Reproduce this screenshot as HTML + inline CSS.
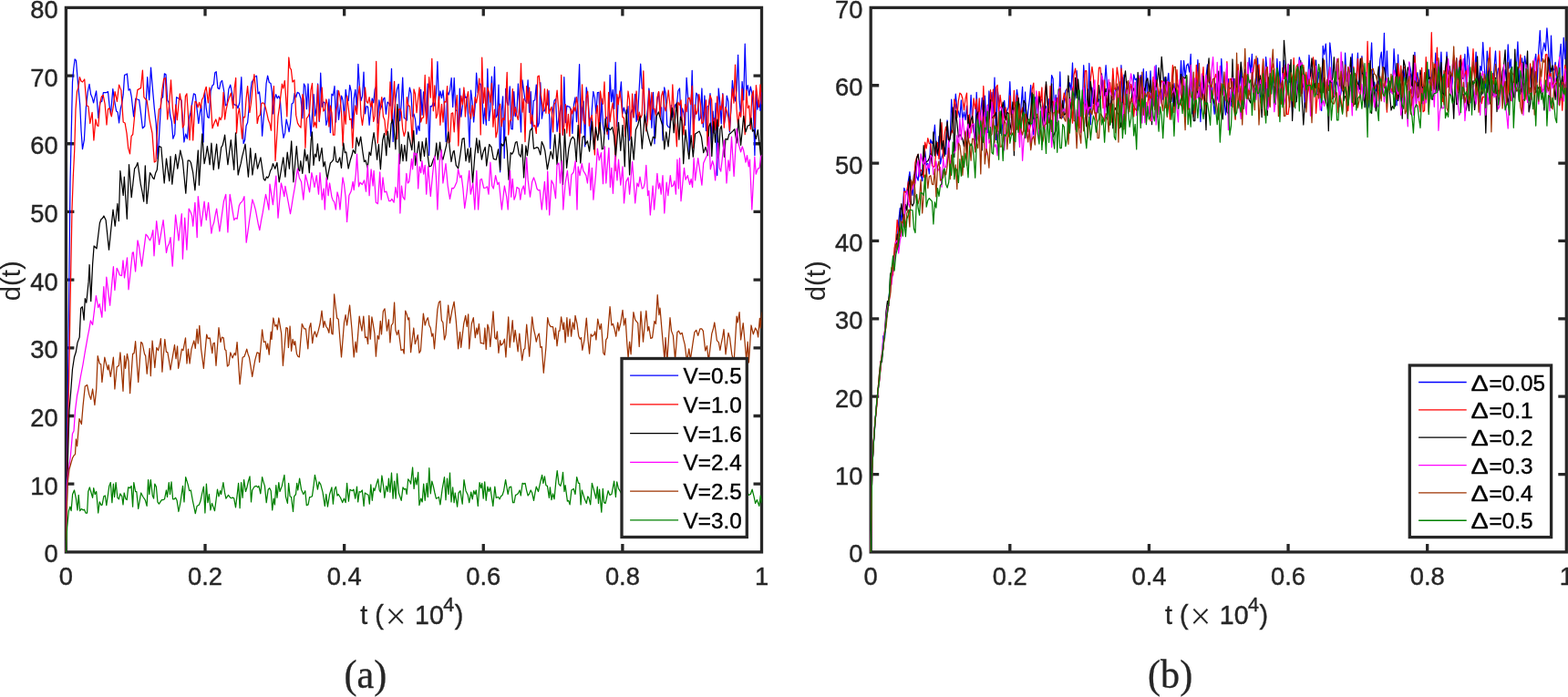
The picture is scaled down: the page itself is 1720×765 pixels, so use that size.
<!DOCTYPE html>
<html><head><meta charset="utf-8"><title>d(t) versus t</title>
<style>html,body{margin:0;padding:0;background:#fff;overflow:hidden}svg{display:block}text{font-family:"Liberation Sans",sans-serif}.s{font-family:"Liberation Serif",serif}.d{fill:none;stroke-width:1.25;stroke-linejoin:round;stroke-linecap:butt}</style></head><body>
<svg width="1720" height="765" viewBox="0 0 1720 765">
<rect width="1720" height="765" fill="#fff"/>
<g fill="none" stroke="#262626" stroke-width="3.3"><path d="M225.02 605.9 v-9.0 M225.02 8.4 v9.0"/><path d="M377.64 605.9 v-9.0 M377.64 8.4 v9.0"/><path d="M530.26 605.9 v-9.0 M530.26 8.4 v9.0"/><path d="M682.88 605.9 v-9.0 M682.88 8.4 v9.0"/><path d="M72.4 531.21 h9.0 M835.5 531.21 h-9.0"/><path d="M72.4 456.52 h9.0 M835.5 456.52 h-9.0"/><path d="M72.4 381.84 h9.0 M835.5 381.84 h-9.0"/><path d="M72.4 307.15 h9.0 M835.5 307.15 h-9.0"/><path d="M72.4 232.46 h9.0 M835.5 232.46 h-9.0"/><path d="M72.4 157.77 h9.0 M835.5 157.77 h-9.0"/><path d="M72.4 83.09 h9.0 M835.5 83.09 h-9.0"/><rect x="72.4" y="8.4" width="763.10" height="597.50"/></g>
<g fill="none" stroke="#262626" stroke-width="3.3"><path d="M1107.82 605.9 v-9.0 M1107.82 8.4 v9.0"/><path d="M1260.44 605.9 v-9.0 M1260.44 8.4 v9.0"/><path d="M1413.06 605.9 v-9.0 M1413.06 8.4 v9.0"/><path d="M1565.68 605.9 v-9.0 M1565.68 8.4 v9.0"/><path d="M955.2 520.54 h9.0 M1718.3 520.54 h-9.0"/><path d="M955.2 435.19 h9.0 M1718.3 435.19 h-9.0"/><path d="M955.2 349.83 h9.0 M1718.3 349.83 h-9.0"/><path d="M955.2 264.47 h9.0 M1718.3 264.47 h-9.0"/><path d="M955.2 179.11 h9.0 M1718.3 179.11 h-9.0"/><path d="M955.2 93.76 h9.0 M1718.3 93.76 h-9.0"/><rect x="955.2" y="8.4" width="763.10" height="597.50"/></g>
<clipPath id="cl"><rect x="71.0" y="8.4" width="764.50" height="598.90"/></clipPath>
<clipPath id="cr"><rect x="953.8000000000001" y="8.4" width="764.50" height="598.90"/></clipPath>
<g clip-path="url(#cl)">
<path class="d" stroke="#0000ff" d="M72.4 605.9 74.5 420.0 75.8 310.0 77.0 200.0 78.2 147.7 79.5 90.0 80.8 75.0 82.1 65.0 83.5 66.5 84.9 84.0 86.3 99.8 87.7 114.8 89.1 144.2 90.5 163.6 92.4 153.3 94.3 118.8 96.2 101.1 98.0 92.3 99.6 103.5 101.1 106.9 102.6 112.8 104.1 106.1 105.6 99.9 107.9 129.4 109.8 112.3 111.7 111.3 113.4 101.6 115.1 101.6 116.8 101.6 118.5 100.6 120.0 115.6 121.5 125.7 123.8 97.6 125.7 111.1 127.6 121.9 129.1 122.9 130.6 134.8 132.2 119.5 133.7 113.6 135.2 103.7 136.6 82.3 138.0 81.9 139.4 80.9 141.1 99.1 142.7 97.8 144.3 106.7 146.6 127.9 148.8 108.2 150.7 109.0 152.6 109.7 154.5 124.3 156.4 140.8 158.7 138.5 160.2 112.6 161.7 84.7 163.7 109.7 165.5 74.1 167.4 97.0 169.3 118.8 171.2 135.5 173.1 174.2 175.0 141.9 176.9 108.2 178.6 106.8 180.4 80.9 182.0 81.9 183.6 109.9 185.2 112.8 186.7 127.0 188.3 133.3 189.8 152.2 191.7 147.4 193.6 106.7 195.3 107.7 197.1 108.7 198.9 109.7 200.4 131.2 201.9 156.0 203.7 147.0 205.4 152.2 207.2 131.0 209.0 123.4 210.7 113.4 212.5 102.9 214.3 103.9 216.0 119.4 217.8 135.5 219.3 123.9 220.8 115.8 223.1 156.0 224.6 100.6 226.2 118.3 227.7 128.4 229.2 129.4 231.1 99.7 233.0 93.8 234.4 92.8 235.8 79.7 237.2 78.7 238.9 96.6 240.6 97.6 242.1 90.1 243.6 88.5 245.5 98.8 247.4 115.8 249.1 114.8 250.9 97.9 252.7 93.1 254.6 102.6 256.5 114.3 258.0 115.3 259.5 115.3 261.0 118.8 262.9 112.3 264.8 84.7 267.1 157.5 268.6 153.7 270.1 137.9 271.6 134.5 273.1 118.8 274.7 101.4 276.2 90.0 277.9 87.7 279.7 84.2 281.5 83.2 283.0 102.8 284.5 101.0 286.0 114.3 287.6 149.2 289.1 129.7 290.6 115.8 292.1 91.4 293.6 83.2 295.3 90.5 297.0 91.5 298.3 100.7 299.7 124.9 301.2 108.7 302.7 103.7 304.2 108.0 305.7 105.4 307.3 109.0 309.2 136.5 311.0 151.4 312.6 145.9 314.1 131.0 315.6 137.1 317.1 144.6 318.6 134.3 320.1 113.9 321.7 112.8 323.2 102.4 324.7 106.9 326.2 101.4 328.1 102.4 330.0 108.2 331.9 129.7 333.4 92.0 334.9 94.8 336.4 119.7 338.0 92.0 339.5 126.1 341.0 149.4 342.5 125.4 344.1 103.5 345.6 127.1 347.1 119.2 348.6 92.0 350.2 133.5 351.7 80.2 353.2 117.4 354.7 111.8 356.3 113.0 357.8 137.3 359.3 131.9 360.9 108.9 362.4 145.6 363.9 103.2 365.4 104.8 367.0 94.5 368.5 133.9 370.0 99.1 371.5 131.3 373.1 117.7 374.6 105.1 376.1 109.7 377.6 129.7 379.2 98.4 380.7 109.9 382.2 110.6 383.7 93.5 385.3 100.9 386.8 140.8 388.3 107.8 389.8 98.4 391.4 119.6 392.9 70.3 394.4 95.1 396.0 110.6 397.5 105.4 399.0 79.1 400.5 124.8 402.1 116.5 403.6 117.2 405.1 137.3 406.6 122.1 408.2 108.0 409.7 112.9 411.2 98.0 412.7 94.8 414.3 135.1 415.8 109.8 417.3 120.0 418.8 115.9 420.4 109.0 421.9 107.2 423.4 125.2 425.0 112.1 426.5 113.2 428.0 116.1 429.5 75.3 431.1 155.5 432.6 123.4 434.1 107.8 435.6 97.7 437.2 92.3 438.7 132.7 440.2 115.4 441.7 85.2 443.3 129.3 444.8 130.6 446.3 132.1 447.8 110.4 449.4 96.1 450.9 102.3 452.4 128.0 454.0 125.1 455.5 130.8 457.0 147.4 458.5 138.1 460.1 143.4 461.6 98.4 463.1 126.2 464.6 100.9 466.2 114.3 467.7 129.2 469.2 92.0 470.7 170.6 472.3 116.5 473.8 116.8 475.3 112.2 476.8 116.2 478.4 102.3 479.9 67.7 481.4 110.8 482.9 100.0 484.5 107.7 486.0 99.1 487.5 115.5 489.1 155.5 490.6 100.9 492.1 104.0 493.6 98.9 495.2 85.5 496.7 117.5 498.2 85.5 499.7 120.4 501.3 121.9 502.8 148.8 504.3 97.1 505.8 128.2 507.4 115.8 508.9 99.1 510.4 107.2 511.9 106.4 513.5 126.9 515.0 161.5 516.5 99.1 518.1 111.5 519.6 133.9 521.1 117.5 522.6 80.2 524.2 101.5 525.7 92.0 527.2 92.0 528.7 102.1 530.3 135.8 531.8 118.7 533.3 137.3 534.8 75.6 536.4 132.3 537.9 120.1 539.4 84.0 540.9 115.3 542.5 73.4 544.0 128.9 545.5 126.1 547.0 93.1 548.6 188.8 550.1 122.5 551.6 105.8 553.2 173.7 554.7 97.4 556.2 111.9 557.7 115.5 559.3 94.9 560.8 141.3 562.3 141.8 563.8 100.6 565.4 127.8 566.9 123.2 568.4 92.0 569.9 115.9 571.5 144.9 573.0 87.8 574.5 99.0 576.0 110.0 577.6 112.6 579.1 87.8 580.6 123.3 582.2 100.6 583.7 140.9 585.2 110.3 586.7 110.0 588.3 93.0 589.8 139.2 591.3 135.0 592.8 90.6 594.4 130.1 595.9 121.0 597.4 121.9 598.9 114.7 600.5 115.0 602.0 99.7 603.5 163.1 605.0 130.4 606.6 119.5 608.1 110.3 609.6 108.7 611.1 144.3 612.7 130.6 614.2 122.4 615.7 115.2 617.3 147.9 618.8 84.6 620.3 134.6 621.8 116.1 623.4 116.9 624.9 117.1 626.4 122.4 627.9 146.4 629.5 114.7 631.0 106.8 632.5 133.7 634.0 110.0 635.6 70.6 637.1 146.1 638.6 118.5 640.1 111.2 641.7 160.8 643.2 95.9 644.7 105.2 646.3 126.8 647.8 153.7 649.3 120.2 650.8 100.5 652.4 107.3 653.9 124.4 655.4 101.5 656.9 101.4 658.5 139.4 660.0 108.4 661.5 137.0 663.0 146.9 664.6 127.7 666.1 130.5 667.6 153.0 669.1 82.3 670.7 111.6 672.2 98.5 673.7 119.4 675.2 68.4 676.8 138.6 678.3 107.8 679.8 106.1 681.4 89.9 682.9 124.7 684.4 118.1 685.9 124.1 687.5 126.0 689.0 116.7 690.5 154.0 692.0 124.2 693.6 120.0 695.1 128.9 696.6 103.5 698.1 133.5 699.7 123.1 701.2 97.0 702.7 70.2 704.2 97.0 705.8 97.0 707.3 132.1 708.8 133.3 710.4 119.8 711.9 97.0 713.4 112.4 714.9 140.3 716.5 101.3 718.0 157.8 719.5 128.1 721.0 109.3 722.6 101.2 724.1 118.1 725.6 117.9 727.1 154.0 728.7 95.9 730.2 102.7 731.7 136.9 733.2 139.5 734.8 140.1 736.3 115.4 737.8 128.6 739.3 119.7 740.9 114.7 742.4 115.0 743.9 99.7 745.5 97.0 747.0 131.1 748.5 119.0 750.0 124.2 751.6 137.3 753.1 85.3 754.6 105.9 756.1 166.9 757.7 127.4 759.2 77.3 760.7 136.8 762.2 125.9 763.8 102.2 765.3 104.3 766.8 132.2 768.3 129.5 769.9 97.0 771.4 139.5 772.9 105.0 774.5 143.5 776.0 117.1 777.5 115.9 779.0 102.6 780.6 157.8 782.1 122.1 783.6 146.4 785.1 113.2 786.7 192.6 788.2 97.0 789.7 112.3 791.2 135.8 792.8 102.6 794.3 136.2 795.8 127.9 797.3 105.1 798.9 111.4 800.4 144.9 801.9 118.2 803.4 88.4 805.0 104.0 806.5 110.8 808.0 99.2 809.6 60.3 811.1 111.4 812.6 127.2 814.1 89.5 815.7 109.8 817.2 48.2 818.7 99.5 820.2 93.7 821.8 104.9 823.3 95.2 824.8 101.9 826.3 117.1 827.9 170.6 829.4 99.7 830.9 120.1 832.4 110.3 834.0 121.4 835.5 101.3"/>
<path class="d" stroke="#ff0000" d="M72.4 605.9 74.0 503.2 75.5 420.0 77.2 324.1 79.0 230.0 80.3 193.8 81.7 165.3 83.0 120.0 84.5 100.1 86.0 96.1 87.4 84.7 89.0 89.0 90.5 90.0 92.7 87.0 95.0 115.8 96.9 116.8 98.8 135.5 101.1 123.4 102.9 154.0 104.9 131.0 106.4 137.5 107.9 138.5 109.7 113.5 111.4 106.0 113.2 104.4 115.1 114.0 117.0 137.0 118.5 119.8 120.0 118.8 122.3 127.9 124.2 117.7 126.1 100.6 128.4 111.3 130.6 93.1 132.9 99.1 135.2 134.0 137.1 135.0 139.0 146.1 140.7 162.7 142.5 168.9 144.1 149.4 145.7 147.5 147.3 131.0 149.1 111.1 150.9 98.6 152.6 97.6 154.5 96.6 156.4 77.1 157.9 106.7 159.4 108.7 161.0 109.7 162.5 120.1 164.0 131.0 165.5 139.0 167.0 146.1 169.3 178.0 171.0 177.0 172.7 139.0 174.4 119.8 176.1 118.8 177.9 98.6 179.7 86.5 181.4 85.5 183.7 131.0 185.6 116.1 187.5 87.8 189.4 119.0 191.3 135.5 192.8 114.8 194.3 131.7 195.8 115.8 197.3 102.9 198.9 111.8 200.4 140.1 201.9 137.0 203.4 105.6 204.9 102.9 206.4 125.7 208.0 153.7 210.2 115.8 211.7 154.0 214.0 111.3 215.5 112.3 217.1 117.8 218.6 112.3 220.1 118.8 221.6 109.2 223.1 106.7 224.6 100.3 226.2 95.3 228.4 112.8 229.9 96.1 231.5 117.6 233.0 140.8 234.9 135.3 236.8 131.0 239.0 138.5 240.6 128.9 242.1 131.6 243.6 127.5 245.1 101.4 246.6 131.0 248.1 120.6 249.7 112.8 251.5 106.9 253.4 102.2 255.7 118.8 257.2 96.7 258.7 85.5 259.5 146.1 261.0 125.8 262.5 118.8 264.1 135.0 265.6 152.2 267.1 128.4 268.6 128.8 270.1 108.0 271.6 94.6 273.9 123.4 275.6 111.7 277.2 93.9 278.9 81.7 280.6 102.1 282.2 135.5 283.8 127.7 285.3 126.2 286.8 113.8 288.3 112.8 289.8 113.8 291.3 118.2 292.9 124.9 294.4 131.8 295.9 135.6 297.4 143.1 298.9 115.0 300.4 94.6 302.0 176.4 303.5 153.4 305.0 128.2 306.5 117.3 307.9 105.1 309.4 92.1 310.8 97.0 312.3 88.5 313.6 106.9 314.8 127.9 316.8 63.0 318.1 74.7 319.4 76.4 320.9 90.0 322.9 87.8 324.7 126.4 326.5 135.1 328.2 138.1 330.0 140.1 331.9 103.7 333.4 110.2 334.9 162.3 336.4 129.6 338.0 127.8 339.5 124.1 341.0 98.9 342.5 91.5 344.1 139.2 345.6 134.2 347.1 140.3 348.6 93.1 350.2 132.6 351.7 118.9 353.2 96.0 354.7 122.0 356.3 120.2 357.8 109.0 359.3 114.7 360.9 139.0 362.4 116.0 363.9 123.9 365.4 148.2 367.0 148.2 368.5 121.2 370.0 116.3 371.5 99.6 373.1 106.9 374.6 125.5 376.1 160.0 377.6 122.4 379.2 136.1 380.7 105.2 382.2 118.0 383.7 131.4 385.3 130.4 386.8 162.3 388.3 128.1 389.8 115.9 391.4 125.4 392.9 104.6 394.4 94.6 396.0 126.5 397.5 137.3 399.0 124.9 400.5 96.0 402.1 111.5 403.6 113.2 405.1 106.7 406.6 117.1 408.2 110.9 409.7 133.4 411.2 127.4 412.7 67.3 414.3 157.0 415.8 131.9 417.3 117.1 418.8 106.7 420.4 128.0 421.9 131.7 423.4 148.2 425.0 140.9 426.5 127.1 428.0 90.0 429.5 133.1 431.1 112.7 432.6 89.3 434.1 134.3 435.6 152.6 437.2 120.7 438.7 119.3 440.2 123.1 441.7 141.7 443.3 149.4 444.8 143.6 446.3 106.7 447.8 115.7 449.4 116.4 450.9 132.2 452.4 158.5 454.0 97.8 455.5 103.2 457.0 123.7 458.5 109.9 460.1 96.0 461.6 134.0 463.1 129.3 464.6 128.8 466.2 82.4 467.7 135.7 469.2 117.8 470.7 84.7 472.3 107.2 473.8 64.3 475.3 121.8 476.8 93.8 478.4 129.7 479.9 125.1 481.4 105.8 482.9 137.3 484.5 114.4 486.0 134.0 487.5 111.3 489.1 112.1 490.6 94.6 492.1 156.8 493.6 155.6 495.2 124.6 496.7 123.9 498.2 144.8 499.7 120.5 501.3 104.5 502.8 160.0 504.3 127.2 505.8 105.2 507.4 114.8 508.9 96.0 510.4 128.0 511.9 108.7 513.5 100.6 515.0 123.0 516.5 130.2 518.1 115.7 519.6 127.5 521.1 106.6 522.6 112.9 524.2 103.0 525.7 86.2 527.2 147.9 528.7 63.2 530.3 113.2 531.8 96.1 533.3 130.7 534.8 96.0 536.4 101.1 537.9 112.1 539.4 91.5 540.9 139.2 542.5 120.1 544.0 150.9 545.5 144.5 547.0 119.7 548.6 114.1 550.1 138.7 551.6 129.7 553.2 131.7 554.7 113.1 556.2 79.4 557.7 147.9 559.3 132.0 560.8 132.1 562.3 97.6 563.8 127.0 565.4 117.6 566.9 126.7 568.4 131.5 569.9 115.7 571.5 69.6 573.0 123.1 574.5 108.5 576.0 155.5 577.6 94.6 579.1 113.5 580.6 96.1 582.2 135.8 583.7 126.0 585.2 138.8 586.7 137.6 588.3 146.4 589.8 84.0 591.3 83.1 592.8 100.4 594.4 111.4 595.9 121.8 597.4 97.7 598.9 124.2 600.5 98.2 602.0 124.6 603.5 120.8 605.0 117.4 606.6 144.9 608.1 114.0 609.6 112.3 611.1 99.1 612.7 120.0 614.2 152.5 615.7 82.3 617.3 148.2 618.8 137.6 620.3 114.6 621.8 146.0 623.4 125.3 624.9 149.4 626.4 119.3 627.9 125.0 629.5 117.2 631.0 122.0 632.5 106.5 634.0 116.3 635.6 159.5 637.1 126.4 638.6 92.9 640.1 132.1 641.7 136.1 643.2 107.5 644.7 100.5 646.3 138.1 647.8 129.7 649.3 126.5 650.8 149.0 652.4 169.9 653.9 124.5 655.4 115.8 656.9 146.9 658.5 100.0 660.0 110.5 661.5 114.2 663.0 89.9 664.6 134.6 666.1 147.3 667.6 101.3 669.1 133.7 670.7 120.3 672.2 113.0 673.7 131.5 675.2 187.3 676.8 103.5 678.3 114.7 679.8 100.0 681.4 111.2 682.9 128.6 684.4 129.4 685.9 149.8 687.5 123.4 689.0 100.0 690.5 109.5 692.0 152.4 693.6 103.0 695.1 128.8 696.6 114.2 698.1 100.0 699.7 131.8 701.2 123.0 702.7 129.6 704.2 126.2 705.8 77.8 707.3 125.6 708.8 143.8 710.4 132.7 711.9 99.7 713.4 131.2 714.9 101.5 716.5 119.1 718.0 119.4 719.5 126.8 721.0 106.6 722.6 100.5 724.1 128.0 725.6 105.1 727.1 100.0 728.7 116.6 730.2 121.8 731.7 112.3 733.2 99.0 734.8 113.8 736.3 131.8 737.8 92.9 739.3 122.3 740.9 139.4 742.4 160.8 743.9 112.2 745.5 115.4 747.0 109.8 748.5 135.1 750.0 147.9 751.6 114.6 753.1 122.6 754.6 108.3 756.1 107.2 757.7 114.7 759.2 94.4 760.7 162.3 762.2 114.8 763.8 125.4 765.3 121.2 766.8 103.5 768.3 113.8 769.9 135.7 771.4 134.0 772.9 123.7 774.5 109.8 776.0 160.0 777.5 115.6 779.0 104.6 780.6 109.3 782.1 145.6 783.6 129.7 785.1 143.0 786.7 105.8 788.2 138.4 789.7 115.9 791.2 120.7 792.8 103.5 794.3 140.1 795.8 117.6 797.3 122.0 798.9 129.0 800.4 143.5 801.9 116.8 803.4 97.5 805.0 113.1 806.5 71.2 808.0 119.8 809.6 138.1 811.1 123.0 812.6 128.4 814.1 97.5 815.7 125.2 817.2 147.6 818.7 99.0 820.2 118.6 821.8 116.0 823.3 141.8 824.8 105.4 826.3 99.7 827.9 140.3 829.4 93.7 830.9 107.3 832.4 117.3 834.0 92.9 835.5 114.5"/>
<path class="d" stroke="#000000" d="M72.4 605.9 73.2 560.0 74.5 500.0 76.0 450.0 77.5 432.0 79.5 405.0 81.5 392.0 83.4 386.0 85.0 376.1 87.2 370.1 88.7 338.2 90.3 336.7 92.1 351.1 93.3 327.6 94.8 332.2 97.1 309.4 98.1 290.5 99.7 330.6 101.6 289.7 103.1 270.0 104.6 271.3 106.0 272.9 107.7 258.9 109.4 244.8 110.9 240.8 112.4 239.6 113.9 237.0 116.1 241.5 117.8 257.8 119.5 274.1 121.0 259.4 122.5 244.8 124.0 230.2 126.2 248.2 127.6 235.8 128.9 223.5 130.3 242.6 131.9 187.5 133.5 201.0 135.2 214.5 136.3 194.2 137.8 217.3 139.3 240.3 141.5 180.7 142.9 198.7 144.2 216.7 145.9 201.0 147.6 185.2 149.3 182.9 151.0 178.5 152.7 190.3 154.3 202.1 156.0 210.5 157.7 221.2 159.3 181.9 161.1 223.5 162.8 206.6 164.5 189.7 166.0 191.7 167.5 195.0 169.0 196.5 170.6 190.1 172.3 186.3 174.6 160.5 176.8 161.6 178.5 181.3 180.2 201.0 182.5 174.0 184.1 186.3 185.8 198.7 187.0 171.7 188.8 202.1 190.0 191.2 191.3 180.4 192.6 169.5 194.8 185.2 196.3 175.1 197.8 165.0 199.1 170.8 200.4 176.2 202.1 194.2 203.8 212.2 206.1 176.2 207.8 176.1 209.4 178.5 211.7 189.7 213.9 208.8 215.6 186.9 217.3 165.0 218.4 203.2 220.1 175.1 221.8 147.0 224.1 179.6 225.8 171.4 227.4 160.5 228.8 170.6 230.1 180.7 231.9 157.1 234.2 186.3 235.9 172.3 237.6 158.2 239.8 185.2 241.3 173.4 242.7 161.6 244.0 159.9 245.3 155.0 246.6 148.1 248.2 164.4 249.9 180.7 251.6 167.2 253.3 153.7 255.0 170.0 256.7 186.3 258.5 145.9 259.8 168.9 261.2 192.0 262.7 185.0 264.2 179.4 265.7 171.7 267.4 165.1 269.0 158.2 270.7 176.2 272.4 194.2 274.7 162.7 276.9 192.0 278.6 180.2 280.3 168.4 282.5 185.2 284.2 179.2 285.9 172.9 287.6 184.7 289.3 196.5 290.8 198.0 292.3 194.1 293.8 195.3 295.2 192.7 296.6 187.4 298.0 185.2 299.4 179.6 301.7 185.2 303.9 178.5 306.2 199.8 307.7 190.8 309.2 181.9 310.7 172.9 312.9 194.2 315.2 167.2 317.4 185.2 319.7 154.9 321.9 199.8 323.6 180.2 325.3 160.5 327.5 186.6 328.7 187.5 329.8 176.7 331.8 190.3 334.3 163.8 335.9 176.7 337.4 169.9 339.3 189.6 341.2 154.0 342.4 144.9 343.9 181.3 345.4 169.1 346.9 172.2 348.4 157.8 350.3 176.7 351.6 169.7 353.0 162.3 354.8 182.8 356.3 177.5 357.7 187.3 359.0 197.2 360.7 187.3 362.4 179.0 364.1 177.4 365.7 175.2 366.9 160.8 368.9 177.5 370.7 178.2 372.7 172.9 374.5 184.3 376.8 157.0 378.3 167.6 379.8 166.9 382.1 185.0 384.4 175.2 385.9 170.8 387.4 164.6 389.7 168.4 391.2 150.9 393.5 160.0 395.7 150.2 398.0 167.6 399.5 177.5 401.0 175.9 403.3 184.3 405.1 166.9 406.7 170.6 408.6 154.7 410.1 145.6 412.1 160.0 413.6 175.2 415.4 158.5 417.4 185.8 419.7 154.0 421.5 146.4 423.8 170.6 425.3 144.1 427.3 161.5 429.1 135.8 430.6 131.2 432.1 140.3 433.9 163.8 435.9 114.5 437.4 135.8 438.5 179.7 440.5 158.5 442.0 176.7 443.9 159.3 445.8 176.7 447.7 144.9 449.6 154.0 451.8 164.6 453.8 143.4 455.6 181.3 457.9 165.3 459.4 155.5 461.4 176.7 463.2 155.5 465.5 171.4 467.4 151.7 469.3 171.4 470.8 182.8 473.1 182.0 475.3 175.2 477.3 171.4 478.8 157.0 480.3 175.2 482.6 156.2 484.1 170.6 485.9 175.2 487.9 166.9 489.7 159.3 491.7 144.9 493.2 161.5 495.0 177.5 497.0 166.9 498.1 165.3 500.3 181.3 502.6 185.0 504.9 169.9 507.2 152.4 509.1 151.7 511.0 176.7 513.2 163.1 514.7 178.2 516.3 162.3 518.5 201.0 520.8 170.6 522.8 151.7 524.3 167.6 525.8 154.0 528.4 175.2 529.9 167.6 532.2 161.5 533.7 182.0 535.2 170.3 536.7 158.5 539.0 161.5 541.3 174.4 542.8 174.9 544.3 175.2 546.6 163.8 548.6 186.6 550.1 157.8 551.9 160.0 553.4 155.7 554.9 150.2 556.4 166.1 558.0 197.2 560.2 167.6 561.7 169.1 563.3 166.1 565.5 156.2 567.0 155.5 569.3 169.1 571.3 172.2 572.8 158.5 574.6 194.9 576.9 160.0 578.4 170.6 579.9 157.0 581.5 143.4 583.7 140.3 585.5 163.1 587.5 162.3 589.0 161.7 590.5 162.3 592.8 169.9 594.3 155.5 596.3 160.0 597.8 165.3 600.4 185.8 602.4 175.2 604.2 166.1 606.5 174.4 608.7 147.9 611.0 180.5 612.5 163.4 614.0 146.4 615.6 175.2 617.5 202.5 619.4 141.8 621.6 184.3 623.9 163.1 626.2 153.2 628.4 150.2 630.3 153.2 632.2 177.5 634.2 137.3 636.8 179.0 639.1 150.2 640.9 149.4 642.4 158.5 644.4 154.7 646.6 166.1 648.0 149.8 649.4 133.5 651.5 163.8 653.5 139.6 655.7 154.0 658.0 134.3 660.3 163.8 661.8 163.1 664.1 130.5 665.6 144.1 667.1 140.3 669.4 142.6 671.7 139.6 673.6 149.4 675.4 171.4 677.0 152.8 678.5 134.3 680.8 165.3 683.0 137.3 685.3 182.8 687.3 120.6 689.1 151.7 690.6 191.9 692.6 150.2 695.2 175.2 697.4 142.6 699.7 137.3 702.0 127.4 704.3 163.1 705.8 144.5 707.3 125.9 709.6 142.6 711.8 151.7 714.1 160.0 716.4 150.2 718.7 151.7 720.2 127.4 722.4 122.9 724.7 131.2 727.0 138.0 728.8 163.8 730.8 144.9 733.1 160.8 735.3 137.3 737.3 118.3 739.1 145.6 740.6 129.3 742.2 113.0 743.5 133.1 744.9 153.2 746.4 128.2 747.9 132.7 749.7 179.7 752.0 142.6 754.0 160.0 755.8 174.4 758.1 148.7 760.3 172.2 762.6 147.1 764.9 145.6 767.2 144.1 769.4 150.2 771.7 167.6 774.0 161.5 776.3 170.6 777.8 138.8 779.3 135.0 780.8 171.4 782.8 133.5 784.6 156.2 786.9 131.2 788.4 173.7 789.9 141.8 791.4 138.0 792.9 155.1 794.5 172.2 796.0 152.4 798.2 153.2 799.8 147.2 801.3 146.4 803.6 144.1 805.8 141.8 808.1 157.0 810.1 131.2 812.6 159.3 814.2 143.4 815.7 127.4 818.0 144.9 820.2 138.0 822.5 137.3 824.0 129.7 825.5 144.1 827.0 142.6 829.3 152.4 831.3 142.6 832.8 156.2 834.6 170.6"/>
<path class="d" stroke="#ff00ff" d="M72.4 605.9 73.5 531.0 75.5 515.0 77.4 500.0 79.5 476.0 81.0 473.0 82.5 450.6 84.6 434.0 85.9 428.1 87.2 420.8 88.5 413.0 91.0 400.0 93.3 386.0 94.8 377.6 96.3 369.0 97.8 361.6 99.4 351.9 101.6 356.4 103.5 340.5 105.4 324.6 107.7 337.5 109.2 333.7 111.8 348.1 113.8 314.7 115.3 341.3 116.8 304.1 118.7 319.7 120.6 335.2 122.5 314.0 124.4 292.7 125.9 318.5 128.2 294.3 129.7 297.5 131.2 301.8 133.5 302.6 135.0 285.9 136.5 304.9 138.0 293.9 139.5 282.9 141.0 317.8 142.5 304.3 143.9 290.9 145.3 277.4 146.3 276.8 148.6 298.0 151.0 263.9 152.4 270.0 153.9 281.0 155.5 292.1 157.0 280.4 158.5 268.8 160.0 257.2 161.5 258.6 163.0 261.5 164.5 263.9 166.2 259.7 167.8 252.7 169.0 280.8 170.3 261.7 171.7 242.6 173.1 255.5 174.6 268.4 176.1 259.4 177.6 250.4 179.1 241.5 180.8 259.4 182.5 277.4 184.0 270.2 185.5 267.6 187.0 260.6 189.2 292.1 190.9 263.9 192.6 235.8 194.3 249.9 196.0 263.9 197.6 249.3 199.3 234.7 200.4 284.2 202.7 239.2 204.9 274.1 207.2 229.1 208.9 232.3 210.6 237.0 211.7 248.2 213.9 222.3 216.2 260.6 217.3 215.6 219.0 231.9 220.7 248.2 222.4 234.7 224.1 221.2 226.3 241.5 228.6 222.3 230.3 239.2 231.9 256.1 233.3 248.0 234.7 244.1 236.2 235.7 237.6 229.1 239.2 241.5 240.9 253.8 242.4 243.0 243.9 232.1 245.4 221.2 247.7 213.3 249.9 254.9 252.2 213.3 253.7 222.7 255.2 232.1 256.7 241.5 258.4 239.3 260.1 240.3 262.3 225.7 263.7 222.7 265.1 221.8 266.5 219.5 267.9 215.6 270.2 266.2 271.9 254.4 273.5 242.6 275.2 230.8 276.9 219.0 278.6 224.1 280.3 230.2 281.8 238.2 283.3 246.1 284.8 252.7 286.5 242.1 288.2 233.4 289.9 223.1 291.5 213.3 293.2 221.1 294.9 230.2 296.0 202.1 297.7 213.3 299.4 224.6 301.1 208.8 302.8 193.1 305.0 239.2 306.7 220.1 308.4 201.0 310.1 207.7 311.8 215.6 312.9 204.3 314.6 213.4 316.3 222.3 318.5 234.7 320.0 225.7 321.5 216.0 323.0 207.7 324.7 196.5 326.4 185.2 328.3 194.9 330.5 199.4 332.8 219.2 335.1 191.9 337.4 201.0 339.6 210.8 341.9 189.6 343.4 197.0 345.0 205.5 347.2 192.6 349.5 213.1 351.0 189.6 353.3 219.2 355.1 207.0 356.3 230.0 358.1 194.9 360.1 214.6 361.6 201.0 363.9 216.1 365.3 220.1 366.6 221.4 368.4 230.0 370.0 210.8 371.5 216.1 373.0 230.0 374.5 212.4 376.0 194.9 377.5 202.5 379.1 216.1 380.6 243.5 382.9 214.6 385.1 210.1 387.1 199.4 388.2 208.5 390.4 190.3 391.5 169.1 393.5 204.8 395.0 200.2 397.3 202.5 399.5 197.9 401.5 210.1 403.3 181.3 405.1 214.6 407.1 185.8 409.1 204.0 410.1 187.3 412.4 222.2 414.4 223.7 416.7 188.8 418.2 219.2 420.0 194.9 421.8 210.8 423.8 210.1 425.3 215.6 426.8 220.7 428.3 220.6 429.8 218.4 432.1 222.2 433.9 205.5 435.9 216.9 437.7 169.1 438.9 234.0 440.5 204.0 442.0 216.1 443.9 219.2 445.8 190.3 447.3 201.0 448.8 199.4 450.2 186.9 451.5 174.4 452.6 185.8 454.1 167.6 455.6 169.9 457.1 168.4 458.7 207.0 460.2 182.8 461.7 189.6 462.9 176.7 464.7 191.1 466.2 181.3 467.7 213.1 469.7 182.8 472.3 215.4 474.6 191.1 476.8 171.4 478.4 194.1 479.9 230.0 482.2 177.5 484.4 164.6 485.9 201.0 487.5 190.3 489.0 179.7 491.2 204.0 493.5 218.4 495.8 206.3 497.3 207.0 498.8 204.8 501.1 199.4 502.6 185.8 504.6 194.9 506.1 192.6 507.9 207.0 509.7 228.5 511.7 214.6 513.2 201.0 514.7 187.3 516.3 213.1 518.8 201.0 520.8 230.0 522.8 187.3 524.6 230.0 526.9 197.2 528.4 196.4 530.7 206.3 532.6 206.2 534.5 204.8 536.0 213.1 537.9 178.2 539.8 204.0 541.3 207.0 543.6 192.6 545.8 202.5 547.3 200.2 548.9 215.1 550.4 230.0 551.9 217.0 553.4 204.0 555.7 216.1 557.2 230.0 559.5 187.3 560.7 216.1 562.2 196.4 564.0 219.2 565.5 215.1 567.0 205.5 569.3 207.0 570.8 219.2 572.4 208.5 574.3 204.0 575.8 213.1 577.7 172.9 579.2 197.9 581.5 216.1 583.7 199.4 585.5 194.9 587.3 200.0 589.0 207.0 590.5 208.8 592.1 208.5 594.3 230.0 595.9 214.7 597.4 199.4 599.6 230.0 600.7 188.1 602.7 236.0 605.0 197.9 607.2 202.5 609.5 217.6 611.0 181.3 613.0 179.0 614.5 201.0 616.3 176.7 617.8 230.0 620.1 201.0 622.4 187.3 623.7 201.0 625.1 214.6 626.9 191.9 629.2 188.8 631.2 176.7 633.0 230.0 634.2 182.8 636.0 192.6 638.3 179.7 639.8 187.3 641.3 189.6 642.9 192.6 644.4 201.0 646.3 179.0 647.9 208.5 649.4 184.3 650.9 219.2 653.5 191.9 655.4 163.1 657.3 175.9 659.5 167.6 661.5 201.7 663.3 160.8 664.8 201.0 666.3 181.6 667.9 162.3 669.4 205.5 670.9 184.3 672.4 212.3 674.7 170.6 677.0 197.9 678.5 175.2 680.8 203.2 683.0 182.8 684.5 222.9 686.8 199.4 689.1 194.9 690.6 213.1 692.1 195.3 693.6 177.5 695.2 200.2 696.7 222.9 698.9 201.0 700.5 204.8 702.0 194.1 704.3 207.0 705.8 206.2 707.3 201.0 708.8 181.3 710.6 214.6 711.8 209.3 713.3 236.0 714.7 220.0 716.1 204.0 717.6 230.0 719.3 210.2 720.9 190.3 722.4 207.0 723.7 201.0 725.2 213.1 727.0 192.6 728.8 234.0 731.2 200.2 732.8 214.6 735.3 192.6 736.8 204.8 738.4 203.8 739.9 198.7 741.4 213.1 742.9 175.2 744.4 207.0 745.5 173.7 747.0 220.7 748.7 202.5 750.5 184.3 752.0 197.2 754.3 192.6 756.6 202.5 758.1 196.4 759.6 205.5 761.1 173.7 762.6 197.9 764.1 185.8 765.7 173.7 767.9 188.8 769.9 203.2 771.7 179.0 774.0 173.7 775.5 170.6 777.8 150.2 779.3 185.8 781.6 176.7 783.1 182.0 784.6 197.9 786.1 178.2 787.6 157.0 789.1 184.3 790.7 188.1 791.9 177.5 794.5 154.0 797.0 201.0 799.0 175.9 800.5 187.3 802.5 150.2 805.1 193.4 806.6 167.2 808.1 141.1 810.4 158.5 812.6 166.9 814.2 160.8 815.7 165.3 818.0 178.2 819.5 170.6 821.3 182.8 822.5 175.2 824.8 230.0 826.3 201.1 827.8 172.2 829.3 191.1 831.2 185.4 833.1 184.3 834.6 172.2 835.8 169.9"/>
<path class="d" stroke="#9e3300" d="M72.4 605.9 73.3 560.0 74.1 531.0 76.0 515.0 78.0 508.0 79.5 502.8 81.0 500.0 82.5 498.6 83.4 482.0 84.6 489.6 87.0 459.6 89.4 465.6 91.0 446.0 93.3 424.0 95.6 422.5 97.8 433.1 99.7 438.4 101.6 427.0 103.9 444.5 105.7 427.0 107.2 390.6 109.2 399.0 110.7 399.7 111.9 419.4 113.4 405.8 114.8 392.2 116.6 399.8 118.3 405.8 119.1 400.5 121.3 413.4 122.9 402.8 124.4 392.2 125.9 427.0 128.2 402.8 130.4 401.3 131.9 386.9 133.5 408.1 135.0 429.3 136.5 390.6 137.6 404.3 139.5 388.4 141.0 396.7 142.6 431.6 144.1 410.0 145.6 388.4 147.1 387.6 148.6 374.7 150.1 397.1 151.7 419.4 153.2 397.5 154.7 375.5 156.2 377.0 158.5 388.4 159.7 390.6 161.2 410.3 162.7 396.3 164.2 382.3 165.3 412.6 167.1 374.0 168.5 388.7 169.8 403.5 171.8 381.5 173.6 384.6 175.0 379.1 176.4 371.7 177.9 408.1 179.3 390.3 180.8 372.4 182.4 386.1 183.9 386.9 185.5 396.3 187.0 405.8 188.5 396.7 190.0 387.6 191.5 378.5 193.0 393.7 194.6 380.0 195.6 404.3 197.5 394.6 199.4 383.1 200.9 384.6 203.5 370.9 205.0 399.0 206.5 383.1 208.1 399.0 210.0 383.1 211.4 378.4 212.8 374.0 214.3 382.3 216.1 361.1 217.3 377.0 218.8 357.3 220.6 383.1 222.0 393.7 223.4 404.3 225.0 385.7 226.7 367.1 228.2 371.7 230.2 370.9 232.8 387.6 233.8 377.0 235.3 376.2 237.0 401.3 238.5 380.4 240.0 359.6 241.9 375.5 243.4 370.2 245.2 370.9 246.7 383.8 247.9 384.6 249.4 402.0 251.0 400.5 252.8 386.9 255.0 392.9 257.3 387.6 258.5 389.9 260.1 375.5 261.6 398.6 263.1 421.7 264.6 406.9 266.1 392.2 267.9 391.4 269.3 387.8 270.7 383.1 272.0 388.4 273.4 392.2 275.1 402.8 276.7 413.4 278.2 404.2 279.8 395.2 282.0 386.9 284.0 387.6 284.6 397.5 286.1 379.7 287.6 361.8 289.3 375.5 291.1 374.7 292.6 383.1 293.7 377.0 295.2 389.1 297.2 364.1 298.0 372.4 299.8 349.0 301.7 358.0 303.3 356.5 304.3 361.8 305.8 349.0 307.2 357.3 308.6 365.6 310.4 401.3 312.1 380.4 313.9 359.6 315.4 360.3 316.4 381.5 318.1 358.0 319.6 385.3 321.1 372.4 322.7 378.5 323.7 374.7 325.5 388.4 326.9 391.3 328.3 391.9 329.8 373.7 331.3 355.5 333.6 360.8 335.4 360.8 337.8 382.8 339.3 360.0 340.9 354.7 342.7 376.7 344.0 367.6 345.4 363.8 347.2 369.9 349.1 363.4 351.0 355.5 353.0 341.1 354.8 359.3 356.0 352.4 357.8 358.5 359.4 360.7 360.9 365.3 362.4 349.4 363.9 366.1 365.1 366.9 366.6 322.9 368.1 336.2 369.7 349.4 371.2 350.2 372.8 371.0 374.5 391.9 376.0 372.9 377.5 354.0 379.1 345.6 380.6 357.0 382.1 346.0 383.6 335.0 385.9 360.8 388.2 391.9 390.0 375.2 391.2 386.6 392.7 366.9 394.2 347.1 395.6 356.3 397.0 363.1 398.8 347.1 400.6 370.6 402.3 369.9 403.6 377.5 404.8 346.4 406.3 372.2 407.9 347.9 409.4 356.7 410.9 366.1 412.4 391.1 414.2 368.4 415.7 372.2 417.3 352.4 418.5 366.9 420.3 341.8 422.0 338.8 424.5 363.1 426.4 350.9 427.9 375.9 429.4 357.0 431.1 354.7 432.6 332.0 433.9 362.3 435.6 367.6 437.1 362.3 438.6 373.3 440.0 384.3 442.0 383.5 443.2 388.1 444.7 341.1 446.2 344.9 447.7 350.9 448.8 348.7 450.6 386.6 452.2 373.3 453.8 360.0 455.3 377.5 456.8 373.0 458.3 367.6 459.9 387.3 461.4 385.0 462.9 364.6 464.4 344.1 466.2 357.0 467.7 351.7 469.3 348.7 470.8 357.0 472.3 360.0 473.8 369.1 475.0 366.1 476.5 382.8 478.2 361.2 479.9 339.6 481.4 332.0 482.9 330.5 484.4 351.7 485.9 354.0 487.5 372.9 489.0 367.6 490.3 351.3 491.7 335.0 493.5 354.7 495.8 341.1 498.1 331.2 500.3 352.4 502.6 382.8 504.6 364.6 505.7 381.3 507.2 368.4 508.7 355.5 510.7 346.4 512.2 358.5 513.7 344.9 514.7 382.8 517.3 355.5 519.3 348.7 521.3 370.6 522.8 360.0 523.8 366.9 525.4 355.5 527.3 376.7 529.1 376.7 530.7 377.5 531.9 360.0 533.2 383.5 534.9 356.2 536.0 360.0 537.8 380.5 539.4 361.2 541.0 341.8 542.8 370.6 544.3 372.2 545.4 363.8 546.9 387.3 548.6 373.7 549.6 379.0 551.9 376.7 553.4 372.2 554.9 391.9 556.3 369.9 557.7 347.9 559.2 381.3 560.7 366.5 562.2 351.7 563.7 375.2 565.2 362.3 566.7 374.1 568.1 385.8 569.8 366.1 571.2 380.9 572.7 395.7 574.6 383.5 575.8 382.8 577.7 356.2 579.2 373.7 580.7 391.1 582.2 369.5 583.7 347.9 585.5 361.5 586.9 367.3 588.3 375.2 589.8 368.8 591.3 366.1 592.8 381.3 594.3 380.5 596.3 409.3 598.9 381.3 600.7 348.7 602.4 356.2 604.2 358.5 606.5 358.5 608.4 372.2 609.5 360.0 611.0 379.7 613.0 363.1 614.0 363.1 615.6 347.9 617.8 361.5 618.6 354.0 620.1 375.9 621.9 348.7 623.1 369.1 625.1 350.2 626.6 369.1 628.4 354.0 630.0 361.5 631.0 346.4 633.0 355.5 634.8 369.1 636.3 372.2 637.5 370.6 638.8 384.3 640.9 373.7 643.3 349.1 645.1 373.7 646.6 388.1 648.2 366.9 649.7 369.1 651.9 366.9 652.7 363.8 653.9 372.9 655.7 350.2 658.0 361.5 659.5 355.5 661.8 387.3 663.3 389.6 664.8 372.9 666.3 370.6 667.7 353.6 669.1 336.5 670.9 357.0 672.4 355.5 674.2 361.5 675.7 369.1 677.7 354.0 678.8 363.1 680.8 354.7 683.0 340.3 684.5 357.0 686.1 349.4 687.9 378.2 689.1 392.6 690.6 375.2 692.1 388.8 693.5 365.7 694.9 342.6 696.7 350.9 698.2 352.8 699.7 354.7 701.2 380.5 703.0 341.8 705.5 375.2 707.3 355.5 708.8 341.1 710.6 363.1 711.8 358.5 713.8 371.4 715.6 370.6 717.9 352.4 719.4 355.5 721.2 323.6 722.9 345.6 724.0 338.0 726.2 364.6 727.6 379.7 729.0 394.9 730.0 370.6 731.8 396.4 733.4 372.5 735.0 348.7 736.5 363.1 738.4 368.4 740.6 394.9 742.9 364.6 744.4 363.1 746.4 366.9 748.2 365.3 749.7 372.4 751.2 378.2 753.5 396.4 755.8 382.8 757.3 394.9 758.8 384.8 760.3 374.7 761.9 364.6 763.7 362.3 765.7 368.4 767.9 360.8 769.7 360.8 771.3 363.1 773.7 385.0 775.5 379.7 777.3 396.4 779.1 381.3 780.8 366.1 782.3 361.3 783.8 354.0 786.4 373.7 788.4 375.9 789.9 384.3 791.3 376.5 792.6 370.4 794.0 361.5 796.0 388.8 797.5 377.1 799.0 365.3 800.5 370.6 802.8 388.8 805.1 397.9 806.6 372.5 808.1 347.1 809.2 354.0 811.1 342.6 812.6 372.9 815.2 354.7 817.0 374.8 818.7 394.9 820.2 375.2 821.4 397.9 824.0 357.0 826.3 366.9 828.6 360.0 830.4 363.1 831.6 369.9 833.4 349.4 834.2 360.0 835.8 342.6"/>
<path class="d" stroke="#008000" d="M72.4 605.9 73.6 578.9 75.4 560.7 76.9 556.2 78.1 560.7 79.6 542.5 81.5 538.0 83.4 547.1 85.0 559.9 86.2 543.3 87.7 560.7 89.5 558.4 91.0 559.9 92.5 559.2 94.0 563.0 95.6 563.0 96.8 539.5 98.3 534.9 100.1 541.0 101.6 546.3 102.7 535.7 104.2 542.5 105.7 539.5 107.7 563.0 109.2 550.9 111.2 554.6 112.2 553.9 113.8 544.8 115.3 544.0 116.8 554.6 118.3 544.0 119.8 533.4 121.3 529.6 122.9 551.6 124.4 531.1 125.6 545.5 127.1 529.6 128.9 546.3 130.4 547.8 131.9 541.8 133.8 544.8 135.0 553.9 136.2 541.0 138.0 547.8 139.2 548.6 140.7 534.9 142.6 535.7 144.1 533.4 145.6 556.2 146.8 529.6 148.6 539.5 149.8 539.5 151.7 558.4 153.2 549.7 154.7 541.0 157.0 545.5 159.2 548.6 161.1 555.4 162.6 526.6 163.8 542.5 165.3 526.6 167.3 544.0 168.6 547.1 169.8 531.1 171.4 534.2 172.9 550.9 174.4 553.1 175.9 550.8 177.4 548.6 178.9 548.7 180.5 547.8 182.4 538.0 183.5 545.5 185.3 529.6 186.5 542.5 188.0 528.9 189.6 547.8 191.1 547.9 192.6 546.3 194.1 549.3 195.9 561.5 197.9 551.6 200.5 533.4 202.0 550.9 203.7 523.6 206.2 531.9 207.7 538.7 209.3 538.0 211.5 550.1 212.9 556.6 214.3 563.7 216.1 555.4 218.4 553.9 219.9 550.1 221.6 541.9 223.4 534.2 224.9 563.0 226.4 531.1 227.9 551.6 229.4 542.5 230.9 559.9 232.5 552.4 234.0 556.4 235.5 560.7 237.0 549.0 238.5 537.2 240.0 544.8 241.6 538.7 242.6 542.5 244.9 529.6 246.4 540.2 247.9 547.1 250.5 543.3 252.8 546.3 254.1 546.6 255.4 546.1 256.7 547.1 258.5 556.9 260.1 543.7 261.6 530.4 263.1 557.7 264.6 529.6 266.1 546.3 267.6 526.6 269.5 539.5 271.0 534.7 272.5 528.0 274.0 522.8 275.5 550.9 276.7 538.0 279.0 534.2 281.3 533.4 282.8 534.9 283.9 533.4 285.8 541.8 287.6 523.6 289.2 529.6 290.4 533.4 292.2 551.6 294.2 537.2 295.7 535.7 297.2 538.7 298.7 559.9 300.2 547.1 301.4 553.9 302.8 532.7 304.0 546.3 305.8 529.6 307.0 539.5 309.3 533.4 311.9 521.3 313.4 544.8 315.4 552.4 316.6 530.4 318.1 544.8 319.5 545.5 321.5 561.5 322.7 544.8 324.5 542.5 325.7 530.4 326.8 538.0 328.6 525.1 330.5 537.2 332.8 542.5 334.8 538.7 336.3 554.6 338.1 553.9 339.6 545.5 341.0 545.5 342.4 544.8 343.9 534.2 345.4 521.3 347.2 529.6 348.4 537.2 350.0 528.9 351.8 531.9 354.0 540.2 356.3 555.4 357.8 542.5 359.4 556.2 361.6 542.5 363.9 534.9 365.4 553.1 366.9 537.2 368.4 534.2 370.0 544.0 371.2 542.5 373.5 546.3 375.7 551.6 377.5 547.1 379.1 551.6 380.6 530.4 382.4 550.1 383.9 537.2 386.3 538.7 387.9 537.2 389.7 547.1 391.5 534.2 392.7 550.9 394.2 539.5 395.7 540.2 397.3 538.0 399.1 555.4 400.3 541.0 402.6 542.5 404.1 543.3 405.3 553.1 406.8 531.9 408.3 549.3 409.8 535.7 410.9 538.7 412.4 533.4 414.7 525.8 416.2 538.0 417.4 540.2 418.9 522.0 420.8 534.9 421.8 546.3 423.8 533.4 425.3 539.5 426.4 525.1 427.9 540.2 429.5 519.0 431.1 547.1 432.6 528.1 434.1 547.1 435.6 519.8 437.4 541.0 438.9 545.5 440.2 549.3 442.0 534.9 443.5 537.2 445.0 536.4 446.2 542.5 447.7 525.8 449.2 527.8 450.6 531.1 452.6 513.0 454.1 536.4 455.6 524.3 457.1 531.9 458.7 518.3 459.9 554.6 461.7 547.1 463.2 550.9 464.7 531.1 466.2 549.3 468.1 530.4 469.3 545.5 470.8 513.7 472.3 541.8 473.8 528.1 475.3 533.4 476.8 540.5 478.4 547.1 479.9 546.6 481.4 545.5 482.9 553.9 485.2 536.4 487.5 523.6 489.0 548.6 490.5 525.1 492.0 542.5 493.5 519.0 495.0 550.9 496.6 534.9 498.1 551.6 499.3 541.0 501.6 556.2 503.1 541.0 504.9 538.7 507.2 553.1 509.0 526.6 511.0 538.7 513.2 543.3 514.7 551.6 516.7 540.2 518.2 547.8 519.7 538.7 521.1 542.5 522.3 538.0 524.3 555.4 526.1 529.6 527.6 535.7 528.7 530.4 530.2 547.1 531.7 528.9 533.2 549.3 534.9 534.2 536.3 539.5 537.8 534.9 539.3 545.2 540.8 555.4 542.8 534.2 544.3 546.3 546.6 545.5 548.1 547.8 549.6 544.5 551.1 543.4 552.6 538.7 554.6 526.6 557.2 542.5 558.7 534.9 560.7 534.2 562.5 551.6 564.0 551.6 565.5 543.3 566.9 542.8 568.3 541.8 570.1 538.0 571.3 544.0 573.1 530.4 574.6 531.1 576.1 530.4 577.7 538.6 579.2 544.0 580.7 541.8 582.2 538.0 583.7 541.0 585.5 549.3 586.9 541.2 588.3 534.2 590.5 539.5 592.8 528.9 594.6 521.3 595.9 530.4 597.4 522.8 598.9 532.7 600.4 533.4 602.4 546.3 603.4 534.9 605.0 548.6 606.5 541.8 608.0 547.8 610.0 526.6 611.2 516.7 613.0 531.1 614.8 533.4 616.3 528.1 617.5 518.3 619.0 539.5 620.1 532.7 622.4 550.1 623.6 549.3 625.1 553.9 626.9 538.0 629.2 536.4 631.0 542.5 632.7 523.6 634.5 530.4 635.7 530.4 637.1 553.9 638.3 538.0 639.8 542.6 641.3 547.8 643.3 552.4 644.8 544.8 645.9 546.3 647.7 553.9 649.4 530.4 651.5 538.0 653.8 547.1 655.3 534.2 656.5 552.4 657.6 537.2 658.8 551.6 659.8 562.2 661.3 536.4 662.6 551.6 664.1 552.4 665.6 545.9 667.1 538.7 668.9 543.3 670.9 542.5 672.3 535.4 673.6 528.1 675.4 545.5 676.7 528.9 678.5 536.4 680.0 538.7 681.5 541.4 683.0 544.0 684.5 538.5 686.1 533.4 687.6 538.8 689.1 547.1 690.6 543.1 692.1 539.5 693.6 543.8 695.2 551.6 696.7 545.1 698.2 538.0 699.7 541.2 701.2 545.5 702.7 538.2 704.3 531.9 705.8 537.8 707.3 544.0 708.8 542.0 710.3 539.5 711.8 543.6 713.3 550.1 714.9 541.9 716.4 536.4 717.9 540.9 719.4 547.1 720.9 540.9 722.4 538.0 724.0 540.2 725.5 544.0 727.0 540.0 728.5 533.4 730.0 538.6 731.5 545.5 733.1 543.0 734.6 539.5 736.1 544.4 737.6 551.6 739.1 546.5 740.6 541.0 742.2 543.0 743.7 545.5 745.2 540.2 746.7 534.9 748.2 541.5 749.7 547.1 751.2 544.7 752.8 539.5 754.3 544.2 755.8 548.6 757.3 542.6 758.8 536.4 760.3 540.2 761.9 545.5 763.4 542.2 764.9 538.0 766.4 543.8 767.9 550.1 769.4 545.5 771.0 539.5 772.5 541.7 774.0 544.0 775.5 540.9 777.0 534.9 778.5 539.4 780.1 547.1 781.6 543.8 783.1 541.0 784.6 545.5 786.1 548.6 787.6 543.0 789.1 538.0 790.7 541.1 792.2 545.5 793.7 540.8 795.2 536.4 796.7 540.7 798.2 547.1 799.8 543.4 801.3 539.5 802.8 546.7 804.3 550.1 805.8 546.5 807.3 541.0 808.9 542.4 810.4 545.5 811.9 541.1 813.4 538.0 814.9 542.2 816.4 547.1 818.0 544.1 819.5 539.5 821.3 543.3 823.3 542.5 825.1 537.2 827.0 544.8 828.6 552.4 830.4 548.6 832.8 555.4 834.3 544.0 835.4 551.6 836.4 547.1"/>
</g>
<g clip-path="url(#cr)">
<path class="d" stroke="#0000ff" d="M955.2 605.9 956.7 515.3 958.3 486.4 959.8 463.9 961.3 447.0 962.8 430.2 964.4 419.1 965.9 403.4 967.4 392.4 968.9 368.7 970.5 371.3 972.0 352.0 973.5 343.7 975.0 326.8 976.6 312.1 978.1 306.2 979.6 298.1 981.1 277.8 982.7 265.8 984.2 264.7 985.7 243.2 987.3 228.4 988.8 243.6 990.3 227.5 991.8 206.4 993.4 211.4 994.9 211.1 996.4 198.0 997.9 188.7 999.5 204.4 1001.0 214.3 1002.5 195.8 1004.0 182.9 1005.6 194.3 1007.1 198.1 1008.6 181.7 1010.1 191.5 1011.7 198.7 1013.2 178.7 1014.7 165.9 1016.2 181.0 1017.8 179.5 1019.3 190.8 1020.8 153.2 1022.4 157.4 1023.9 153.4 1025.4 137.2 1026.9 163.0 1028.5 170.3 1030.0 149.7 1031.5 179.9 1033.0 172.7 1034.6 167.6 1036.1 162.2 1037.6 169.1 1039.1 132.0 1040.7 155.9 1042.2 152.8 1043.7 109.2 1045.2 133.6 1046.8 123.5 1048.3 103.2 1049.8 119.0 1051.4 122.8 1052.9 129.1 1054.4 110.0 1055.9 131.9 1057.5 122.8 1059.0 131.5 1060.5 116.0 1062.0 140.4 1063.6 135.1 1065.1 104.3 1066.6 133.7 1068.1 145.0 1069.7 154.4 1071.2 101.3 1072.7 135.7 1074.2 132.3 1075.8 123.0 1077.3 107.3 1078.8 142.3 1080.3 105.1 1081.9 130.9 1083.4 145.4 1084.9 100.0 1086.5 116.2 1088.0 101.4 1089.5 124.8 1091.0 85.2 1092.6 153.4 1094.1 97.2 1095.6 110.4 1097.1 132.2 1098.7 148.3 1100.2 131.1 1101.7 110.3 1103.2 124.9 1104.8 121.1 1106.3 117.5 1107.8 89.7 1109.3 125.4 1110.9 125.7 1112.4 119.0 1113.9 116.1 1115.5 98.5 1117.0 109.4 1118.5 137.6 1120.0 117.7 1121.6 95.4 1123.1 137.8 1124.6 101.0 1126.1 149.0 1127.7 122.5 1129.2 110.8 1130.7 93.5 1132.2 136.2 1133.8 147.8 1135.3 107.8 1136.8 105.1 1138.3 124.7 1139.9 103.3 1141.4 110.0 1142.9 109.1 1144.4 117.6 1146.0 132.7 1147.5 116.7 1149.0 129.3 1150.6 108.7 1152.1 118.5 1153.6 82.6 1155.1 86.4 1156.7 123.1 1158.2 104.1 1159.7 120.9 1161.2 121.7 1162.8 78.9 1164.3 126.9 1165.8 129.2 1167.3 111.0 1168.9 99.5 1170.4 97.5 1171.9 101.0 1173.4 90.8 1175.0 98.9 1176.5 69.0 1178.0 112.9 1179.6 103.7 1181.1 77.7 1182.6 104.0 1184.1 111.2 1185.7 125.6 1187.2 118.6 1188.7 71.7 1190.2 94.3 1191.8 137.5 1193.3 121.7 1194.8 69.5 1196.3 136.7 1197.9 96.2 1199.4 110.8 1200.9 113.3 1202.4 115.1 1204.0 114.9 1205.5 109.2 1207.0 108.1 1208.5 80.8 1210.1 99.6 1211.6 91.9 1213.1 71.7 1214.7 96.8 1216.2 113.3 1217.7 118.1 1219.2 110.2 1220.8 109.5 1222.3 105.7 1223.8 96.4 1225.3 100.0 1226.9 94.9 1228.4 108.5 1229.9 71.7 1231.4 112.3 1233.0 82.2 1234.5 114.8 1236.0 91.4 1237.5 89.3 1239.1 97.7 1240.6 92.5 1242.1 105.7 1243.7 81.9 1245.2 87.7 1246.7 86.1 1248.2 121.0 1249.8 104.0 1251.3 82.6 1252.8 99.3 1254.3 75.6 1255.9 127.1 1257.4 78.7 1258.9 106.0 1260.4 109.7 1262.0 77.8 1263.5 102.7 1265.0 116.3 1266.5 109.0 1268.1 71.7 1269.6 115.4 1271.1 103.7 1272.6 105.2 1274.2 97.8 1275.7 109.1 1277.2 84.8 1278.8 110.2 1280.3 91.7 1281.8 80.3 1283.3 102.5 1284.9 126.1 1286.4 116.5 1287.9 91.6 1289.4 108.6 1291.0 91.5 1292.5 95.1 1294.0 98.7 1295.5 66.6 1297.1 96.7 1298.6 66.6 1300.1 84.2 1301.6 72.0 1303.2 70.0 1304.7 79.0 1306.2 59.4 1307.8 124.8 1309.3 99.1 1310.8 114.5 1312.3 94.1 1313.9 65.7 1315.4 95.8 1316.9 133.6 1318.4 90.1 1320.0 100.5 1321.5 105.9 1323.0 83.2 1324.5 70.9 1326.1 89.9 1327.6 91.9 1329.1 89.8 1330.6 111.1 1332.2 125.1 1333.7 91.9 1335.2 106.5 1336.8 111.8 1338.3 108.6 1339.8 64.5 1341.3 90.9 1342.9 106.8 1344.4 126.0 1345.9 111.5 1347.4 86.7 1349.0 104.0 1350.5 116.2 1352.0 103.0 1353.5 86.5 1355.1 118.8 1356.6 76.9 1358.1 101.0 1359.6 94.9 1361.2 75.3 1362.7 112.2 1364.2 101.8 1365.7 76.2 1367.3 102.1 1368.8 88.0 1370.3 63.3 1371.9 79.8 1373.4 59.4 1374.9 104.5 1376.4 97.6 1378.0 94.9 1379.5 63.9 1381.0 91.0 1382.5 112.3 1384.1 97.8 1385.6 98.6 1387.1 102.6 1388.6 62.7 1390.2 80.2 1391.7 116.6 1393.2 100.9 1394.7 89.3 1396.3 98.1 1397.8 85.7 1399.3 96.6 1400.9 64.5 1402.4 96.2 1403.9 67.6 1405.4 111.6 1407.0 86.2 1408.5 66.3 1410.0 86.2 1411.5 85.7 1413.1 94.1 1414.6 73.9 1416.1 96.7 1417.6 122.9 1419.2 77.3 1420.7 95.9 1422.2 87.3 1423.7 94.5 1425.3 62.8 1426.8 70.2 1428.3 96.9 1429.8 91.5 1431.4 117.9 1432.9 82.7 1434.4 93.3 1436.0 60.5 1437.5 83.6 1439.0 75.8 1440.5 89.0 1442.1 90.1 1443.6 66.1 1445.1 94.4 1446.6 79.0 1448.2 93.0 1449.7 121.5 1451.2 50.4 1452.7 59.8 1454.3 48.1 1455.8 75.7 1457.3 99.0 1458.8 47.0 1460.4 62.7 1461.9 108.4 1463.4 106.4 1465.0 94.8 1466.5 90.0 1468.0 95.6 1469.5 111.5 1471.1 100.8 1472.6 85.4 1474.1 110.1 1475.6 58.2 1477.2 89.2 1478.7 77.0 1480.2 79.4 1481.7 78.5 1483.3 59.0 1484.8 101.5 1486.3 100.0 1487.8 87.2 1489.4 58.2 1490.9 98.3 1492.4 96.4 1493.9 61.6 1495.5 81.8 1497.0 97.3 1498.5 116.2 1500.1 120.2 1501.6 115.6 1503.1 73.2 1504.6 47.0 1506.2 94.7 1507.7 90.2 1509.2 104.8 1510.7 88.7 1512.3 92.6 1513.8 65.2 1515.3 57.1 1516.8 82.3 1518.4 36.4 1519.9 96.8 1521.4 56.0 1522.9 93.8 1524.5 89.1 1526.0 101.0 1527.5 98.0 1529.1 53.7 1530.6 78.4 1532.1 115.7 1533.6 60.0 1535.2 104.7 1536.7 96.5 1538.2 80.2 1539.7 75.5 1541.3 89.0 1542.8 92.6 1544.3 98.7 1545.8 68.9 1547.4 76.7 1548.9 85.5 1550.4 113.7 1551.9 57.3 1553.5 91.6 1555.0 79.7 1556.5 94.2 1558.0 80.7 1559.6 93.1 1561.1 113.7 1562.6 96.2 1564.2 95.7 1565.7 94.6 1567.2 76.4 1568.7 95.4 1570.3 85.1 1571.8 74.3 1573.3 85.7 1574.8 58.2 1576.4 99.3 1577.9 88.0 1579.4 79.0 1580.9 57.1 1582.5 105.6 1584.0 109.7 1585.5 99.4 1587.0 57.1 1588.6 80.5 1590.1 82.1 1591.6 102.0 1593.2 90.5 1594.7 63.5 1596.2 84.1 1597.7 63.9 1599.3 87.4 1600.8 67.6 1602.3 64.6 1603.8 86.6 1605.4 85.4 1606.9 59.5 1608.4 95.5 1609.9 51.5 1611.5 65.3 1613.0 112.7 1614.5 76.8 1616.0 76.1 1617.6 80.9 1619.1 57.1 1620.6 102.7 1622.1 93.7 1623.7 72.5 1625.2 77.8 1626.7 46.5 1628.3 74.7 1629.8 96.9 1631.3 56.1 1632.8 72.4 1634.4 83.2 1635.9 98.6 1637.4 104.8 1638.9 76.0 1640.5 56.0 1642.0 86.5 1643.5 75.0 1645.0 74.5 1646.6 96.6 1648.1 108.5 1649.6 86.4 1651.1 76.6 1652.7 87.7 1654.2 48.9 1655.7 75.0 1657.3 65.0 1658.8 108.5 1660.3 92.8 1661.8 81.0 1663.4 74.2 1664.9 45.9 1666.4 83.9 1667.9 103.2 1669.5 63.9 1671.0 85.8 1672.5 61.6 1674.0 71.7 1675.6 87.7 1677.1 97.9 1678.6 80.5 1680.1 73.8 1681.7 86.7 1683.2 69.0 1684.7 59.4 1686.2 90.2 1687.8 54.7 1689.3 33.5 1690.8 67.2 1692.4 54.7 1693.9 47.0 1695.4 55.6 1696.9 30.8 1698.5 52.8 1700.0 86.2 1701.5 39.1 1703.0 75.3 1704.6 76.9 1706.1 68.4 1707.6 88.5 1709.1 74.9 1710.7 63.5 1712.2 48.3 1713.7 85.5 1715.2 41.4 1716.8 64.5 1718.3 44.7"/>
<path class="d" stroke="#ff0000" d="M955.2 605.9 956.7 514.1 958.3 484.1 959.8 464.8 961.3 448.4 962.8 429.8 964.4 419.6 965.9 406.4 967.4 390.4 968.9 381.7 970.5 363.3 972.0 351.0 973.5 342.3 975.0 327.3 976.6 321.0 978.1 293.3 979.6 301.9 981.1 272.4 982.7 263.9 984.2 241.3 985.7 255.4 987.3 259.7 988.8 253.1 990.3 244.8 991.8 210.1 993.4 210.7 994.9 209.6 996.4 199.6 997.9 221.9 999.5 207.9 1001.0 199.9 1002.5 202.5 1004.0 178.4 1005.6 172.5 1007.1 169.5 1008.6 188.5 1010.1 186.5 1011.7 188.4 1013.2 194.7 1014.7 156.2 1016.2 163.0 1017.8 151.6 1019.3 157.7 1020.8 157.9 1022.4 181.3 1023.9 183.5 1025.4 181.8 1026.9 163.8 1028.5 156.4 1030.0 174.5 1031.5 151.9 1033.0 134.7 1034.6 174.2 1036.1 147.3 1037.6 139.1 1039.1 146.4 1040.7 154.7 1042.2 151.1 1043.7 142.9 1045.2 146.0 1046.8 109.0 1048.3 114.7 1049.8 129.2 1051.4 110.5 1052.9 102.2 1054.4 103.5 1055.9 108.3 1057.5 120.8 1059.0 108.4 1060.5 102.1 1062.0 152.9 1063.6 125.7 1065.1 145.9 1066.6 132.1 1068.1 107.9 1069.7 119.5 1071.2 108.9 1072.7 136.1 1074.2 107.8 1075.8 144.9 1077.3 136.6 1078.8 94.5 1080.3 134.8 1081.9 151.4 1083.4 115.2 1084.9 140.2 1086.5 98.7 1088.0 126.3 1089.5 98.1 1091.0 129.6 1092.6 96.0 1094.1 93.3 1095.6 125.8 1097.1 104.3 1098.7 117.6 1100.2 136.1 1101.7 126.2 1103.2 118.0 1104.8 132.1 1106.3 150.0 1107.8 105.1 1109.3 129.5 1110.9 128.2 1112.4 99.3 1113.9 145.3 1115.5 104.3 1117.0 111.7 1118.5 147.7 1120.0 124.3 1121.6 118.2 1123.1 144.3 1124.6 126.1 1126.1 125.7 1127.7 144.7 1129.2 142.8 1130.7 136.0 1132.2 98.0 1133.8 91.2 1135.3 133.8 1136.8 104.7 1138.3 118.9 1139.9 100.4 1141.4 112.6 1142.9 96.0 1144.4 141.0 1146.0 102.5 1147.5 92.0 1149.0 112.6 1150.6 134.8 1152.1 94.4 1153.6 112.5 1155.1 111.2 1156.7 122.8 1158.2 122.8 1159.7 107.4 1161.2 117.0 1162.8 107.8 1164.3 120.2 1165.8 112.0 1167.3 102.0 1168.9 110.9 1170.4 117.9 1171.9 142.7 1173.4 107.4 1175.0 115.9 1176.5 135.1 1178.0 82.5 1179.6 75.1 1181.1 88.0 1182.6 105.9 1184.1 140.5 1185.7 119.7 1187.2 129.7 1188.7 107.4 1190.2 77.8 1191.8 77.6 1193.3 120.4 1194.8 112.0 1196.3 87.0 1197.9 73.3 1199.4 84.0 1200.9 123.1 1202.4 132.0 1204.0 97.0 1205.5 74.0 1207.0 74.0 1208.5 90.0 1210.1 118.6 1211.6 88.1 1213.1 117.3 1214.7 108.6 1216.2 99.1 1217.7 90.6 1219.2 107.9 1220.8 75.1 1222.3 97.8 1223.8 98.0 1225.3 74.0 1226.9 85.7 1228.4 130.5 1229.9 75.1 1231.4 85.9 1233.0 124.9 1234.5 133.2 1236.0 104.0 1237.5 89.6 1239.1 102.7 1240.6 92.5 1242.1 97.5 1243.7 128.0 1245.2 112.1 1246.7 106.5 1248.2 109.0 1249.8 102.6 1251.3 116.4 1252.8 118.3 1254.3 98.2 1255.9 103.7 1257.4 133.2 1258.9 112.9 1260.4 100.2 1262.0 132.8 1263.5 105.3 1265.0 84.3 1266.5 110.7 1268.1 87.8 1269.6 91.9 1271.1 105.5 1272.6 99.4 1274.2 88.5 1275.7 90.7 1277.2 90.1 1278.8 118.3 1280.3 90.6 1281.8 90.1 1283.3 131.0 1284.9 94.3 1286.4 71.7 1287.9 123.4 1289.4 99.5 1291.0 76.6 1292.5 104.4 1294.0 110.6 1295.5 115.9 1297.1 101.8 1298.6 118.6 1300.1 123.2 1301.6 84.2 1303.2 120.3 1304.7 103.6 1306.2 90.0 1307.8 92.5 1309.3 128.2 1310.8 117.3 1312.3 71.4 1313.9 97.0 1315.4 95.9 1316.9 95.1 1318.4 89.6 1320.0 73.7 1321.5 109.5 1323.0 84.0 1324.5 90.5 1326.1 87.4 1327.6 85.0 1329.1 108.5 1330.6 104.9 1332.2 87.5 1333.7 81.3 1335.2 88.3 1336.8 112.1 1338.3 100.9 1339.8 101.5 1341.3 92.4 1342.9 92.6 1344.4 100.2 1345.9 67.7 1347.4 120.1 1349.0 86.6 1350.5 86.7 1352.0 117.5 1353.5 102.5 1355.1 131.3 1356.6 87.4 1358.1 70.5 1359.6 97.0 1361.2 115.9 1362.7 83.9 1364.2 117.2 1365.7 80.3 1367.3 82.9 1368.8 103.1 1370.3 96.9 1371.9 107.4 1373.4 85.2 1374.9 78.3 1376.4 65.2 1378.0 73.3 1379.5 76.2 1381.0 70.8 1382.5 98.2 1384.1 85.2 1385.6 64.8 1387.1 126.4 1388.6 85.7 1390.2 74.2 1391.7 113.3 1393.2 115.9 1394.7 78.8 1396.3 69.8 1397.8 76.5 1399.3 111.5 1400.9 91.7 1402.4 81.6 1403.9 93.2 1405.4 114.1 1407.0 74.3 1408.5 86.5 1410.0 71.6 1411.5 125.5 1413.1 125.4 1414.6 113.2 1416.1 94.2 1417.6 105.0 1419.2 63.6 1420.7 95.5 1422.2 72.8 1423.7 70.7 1425.3 80.4 1426.8 87.1 1428.3 102.6 1429.8 71.3 1431.4 99.4 1432.9 79.2 1434.4 103.3 1436.0 92.7 1437.5 112.6 1439.0 80.7 1440.5 62.8 1442.1 81.2 1443.6 124.3 1445.1 104.3 1446.6 91.3 1448.2 107.4 1449.7 102.8 1451.2 101.6 1452.7 85.7 1454.3 93.6 1455.8 96.3 1457.3 82.9 1458.8 73.8 1460.4 93.2 1461.9 108.5 1463.4 104.9 1465.0 102.0 1466.5 101.9 1468.0 123.6 1469.5 101.3 1471.1 110.4 1472.6 123.6 1474.1 96.9 1475.6 97.4 1477.2 110.0 1478.7 121.7 1480.2 100.6 1481.7 99.3 1483.3 94.8 1484.8 73.4 1486.3 108.7 1487.8 90.2 1489.4 64.6 1490.9 87.5 1492.4 64.2 1493.9 73.5 1495.5 91.0 1497.0 77.6 1498.5 108.4 1500.1 45.4 1501.6 94.6 1503.1 101.8 1504.6 117.1 1506.2 109.9 1507.7 98.1 1509.2 94.4 1510.7 91.8 1512.3 110.8 1513.8 83.8 1515.3 100.0 1516.8 91.7 1518.4 96.3 1519.9 88.6 1521.4 123.1 1522.9 85.3 1524.5 95.8 1526.0 97.2 1527.5 102.7 1529.1 100.7 1530.6 100.1 1532.1 109.0 1533.6 69.8 1535.2 90.3 1536.7 72.2 1538.2 94.1 1539.7 73.4 1541.3 74.9 1542.8 89.6 1544.3 114.5 1545.8 103.8 1547.4 98.2 1548.9 115.5 1550.4 79.3 1551.9 61.2 1553.5 81.9 1555.0 86.7 1556.5 111.5 1558.0 122.7 1559.6 74.3 1561.1 122.7 1562.6 121.2 1564.2 62.7 1565.7 99.7 1567.2 122.6 1568.7 97.4 1570.3 35.7 1571.8 93.6 1573.3 70.1 1574.8 97.4 1576.4 52.2 1577.9 97.2 1579.4 98.3 1580.9 75.5 1582.5 111.5 1584.0 77.5 1585.5 104.8 1587.0 67.5 1588.6 95.4 1590.1 79.0 1591.6 91.3 1593.2 81.3 1594.7 60.7 1596.2 70.2 1597.7 90.7 1599.3 101.8 1600.8 69.1 1602.3 60.7 1603.8 74.0 1605.4 86.5 1606.9 81.0 1608.4 77.6 1609.9 104.0 1611.5 108.5 1613.0 105.3 1614.5 77.9 1616.0 53.7 1617.6 88.5 1619.1 68.3 1620.6 103.5 1622.1 94.2 1623.7 84.0 1625.2 113.7 1626.7 106.1 1628.3 106.8 1629.8 112.4 1631.3 105.1 1632.8 72.4 1634.4 52.2 1635.9 106.8 1637.4 80.5 1638.9 90.9 1640.5 97.7 1642.0 115.3 1643.5 114.7 1645.0 56.0 1646.6 90.0 1648.1 105.9 1649.6 101.3 1651.1 89.6 1652.7 113.0 1654.2 101.4 1655.7 80.0 1657.3 110.5 1658.8 89.0 1660.3 100.5 1661.8 67.5 1663.4 88.4 1664.9 75.5 1666.4 73.8 1667.9 60.0 1669.5 121.6 1671.0 91.7 1672.5 94.9 1674.0 109.2 1675.6 90.8 1677.1 99.2 1678.6 69.8 1680.1 92.0 1681.7 84.3 1683.2 98.3 1684.7 94.5 1686.2 68.8 1687.8 59.8 1689.3 71.2 1690.8 100.7 1692.4 98.6 1693.9 98.0 1695.4 59.8 1696.9 59.7 1698.5 75.9 1700.0 83.8 1701.5 80.2 1703.0 95.3 1704.6 88.3 1706.1 71.2 1707.6 74.4 1709.1 91.2 1710.7 91.7 1712.2 89.4 1713.7 121.2 1715.2 89.9 1716.8 71.7 1718.3 78.1"/>
<path class="d" stroke="#000000" d="M955.2 605.9 956.7 514.9 958.3 485.7 959.8 464.3 961.3 448.5 962.8 431.9 964.4 411.8 965.9 396.6 967.4 397.1 968.9 381.5 970.5 364.5 972.0 341.8 973.5 330.3 975.0 335.6 976.6 300.7 978.1 298.0 979.6 297.6 981.1 281.0 982.7 275.1 984.2 257.1 985.7 273.0 987.3 237.2 988.8 223.7 990.3 236.3 991.8 246.5 993.4 224.4 994.9 231.0 996.4 208.2 997.9 193.7 999.5 223.6 1001.0 226.0 1002.5 222.8 1004.0 191.1 1005.6 173.8 1007.1 169.1 1008.6 181.1 1010.1 193.0 1011.7 191.4 1013.2 159.7 1014.7 179.9 1016.2 177.5 1017.8 176.7 1019.3 173.4 1020.8 168.8 1022.4 179.3 1023.9 144.8 1025.4 170.9 1026.9 154.9 1028.5 168.9 1030.0 161.0 1031.5 130.9 1033.0 163.9 1034.6 154.5 1036.1 171.3 1037.6 154.4 1039.1 133.6 1040.7 155.9 1042.2 151.1 1043.7 142.1 1045.2 117.9 1046.8 172.6 1048.3 121.3 1049.8 134.6 1051.4 150.5 1052.9 147.4 1054.4 149.8 1055.9 152.9 1057.5 160.9 1059.0 145.7 1060.5 169.2 1062.0 126.4 1063.6 140.1 1065.1 131.6 1066.6 127.5 1068.1 140.1 1069.7 159.9 1071.2 126.6 1072.7 122.9 1074.2 145.3 1075.8 144.3 1077.3 164.9 1078.8 110.0 1080.3 139.0 1081.9 128.2 1083.4 135.6 1084.9 129.6 1086.5 109.6 1088.0 129.5 1089.5 128.3 1091.0 127.0 1092.6 123.4 1094.1 157.0 1095.6 144.0 1097.1 146.4 1098.7 121.4 1100.2 112.0 1101.7 122.7 1103.2 132.0 1104.8 123.2 1106.3 124.6 1107.8 143.0 1109.3 133.9 1110.9 112.0 1112.4 170.7 1113.9 115.2 1115.5 128.2 1117.0 107.4 1118.5 121.1 1120.0 136.2 1121.6 126.8 1123.1 110.3 1124.6 113.2 1126.1 125.2 1127.7 131.9 1129.2 138.1 1130.7 122.6 1132.2 101.9 1133.8 143.9 1135.3 129.6 1136.8 129.7 1138.3 127.9 1139.9 105.8 1141.4 115.0 1142.9 125.0 1144.4 138.2 1146.0 123.7 1147.5 89.9 1149.0 111.6 1150.6 125.0 1152.1 141.3 1153.6 92.0 1155.1 150.3 1156.7 146.4 1158.2 143.4 1159.7 136.4 1161.2 97.9 1162.8 129.8 1164.3 128.8 1165.8 110.3 1167.3 126.2 1168.9 124.8 1170.4 110.2 1171.9 83.0 1173.4 111.9 1175.0 119.5 1176.5 109.4 1178.0 123.8 1179.6 85.3 1181.1 107.6 1182.6 87.0 1184.1 104.1 1185.7 121.7 1187.2 115.3 1188.7 112.2 1190.2 114.6 1191.8 138.8 1193.3 97.9 1194.8 125.7 1196.3 89.5 1197.9 102.6 1199.4 114.0 1200.9 98.6 1202.4 113.9 1204.0 123.8 1205.5 93.6 1207.0 108.5 1208.5 84.1 1210.1 90.9 1211.6 104.9 1213.1 97.4 1214.7 131.0 1216.2 98.5 1217.7 136.7 1219.2 104.3 1220.8 140.8 1222.3 121.8 1223.8 118.3 1225.3 123.5 1226.9 125.5 1228.4 133.6 1229.9 139.6 1231.4 106.5 1233.0 88.5 1234.5 77.9 1236.0 97.8 1237.5 119.6 1239.1 115.5 1240.6 110.7 1242.1 102.6 1243.7 97.0 1245.2 102.0 1246.7 113.2 1248.2 79.5 1249.8 116.2 1251.3 84.4 1252.8 102.1 1254.3 96.0 1255.9 99.6 1257.4 88.8 1258.9 85.9 1260.4 100.3 1262.0 87.9 1263.5 136.6 1265.0 102.7 1266.5 94.5 1268.1 95.3 1269.6 86.8 1271.1 74.3 1272.6 96.5 1274.2 62.3 1275.7 80.6 1277.2 102.0 1278.8 84.4 1280.3 101.5 1281.8 109.4 1283.3 112.1 1284.9 111.4 1286.4 92.8 1287.9 116.4 1289.4 97.2 1291.0 108.0 1292.5 114.6 1294.0 98.9 1295.5 81.4 1297.1 110.1 1298.6 84.9 1300.1 86.0 1301.6 82.6 1303.2 113.5 1304.7 100.3 1306.2 71.1 1307.8 109.9 1309.3 132.5 1310.8 132.5 1312.3 95.5 1313.9 102.0 1315.4 109.5 1316.9 116.4 1318.4 103.1 1320.0 83.5 1321.5 111.3 1323.0 142.6 1324.5 80.4 1326.1 63.9 1327.6 104.1 1329.1 100.8 1330.6 108.9 1332.2 114.0 1333.7 110.3 1335.2 99.3 1336.8 78.2 1338.3 107.7 1339.8 123.3 1341.3 130.8 1342.9 102.6 1344.4 99.3 1345.9 122.9 1347.4 125.0 1349.0 107.4 1350.5 111.6 1352.0 65.0 1353.5 107.5 1355.1 86.5 1356.6 95.4 1358.1 96.5 1359.6 91.0 1361.2 68.1 1362.7 81.8 1364.2 102.2 1365.7 97.9 1367.3 92.0 1368.8 104.6 1370.3 110.0 1371.9 113.0 1373.4 86.5 1374.9 97.1 1376.4 92.4 1378.0 83.1 1379.5 72.1 1381.0 93.5 1382.5 83.0 1384.1 128.6 1385.6 99.1 1387.1 93.8 1388.6 90.4 1390.2 126.7 1391.7 84.8 1393.2 93.1 1394.7 84.1 1396.3 93.5 1397.8 95.8 1399.3 114.3 1400.9 75.5 1402.4 94.0 1403.9 122.2 1405.4 90.7 1407.0 92.8 1408.5 44.3 1410.0 65.5 1411.5 89.9 1413.1 70.6 1414.6 90.1 1416.1 65.4 1417.6 132.5 1419.2 97.0 1420.7 111.8 1422.2 111.7 1423.7 92.6 1425.3 101.4 1426.8 66.7 1428.3 110.2 1429.8 137.0 1431.4 112.9 1432.9 113.8 1434.4 92.0 1436.0 92.0 1437.5 80.2 1439.0 64.0 1440.5 88.8 1442.1 96.3 1443.6 76.9 1445.1 103.9 1446.6 96.7 1448.2 101.6 1449.7 82.3 1451.2 64.2 1452.7 103.4 1454.3 104.5 1455.8 92.9 1457.3 143.7 1458.8 88.3 1460.4 90.7 1461.9 84.9 1463.4 62.9 1465.0 102.7 1466.5 70.2 1468.0 85.7 1469.5 87.7 1471.1 97.0 1472.6 67.7 1474.1 110.3 1475.6 105.6 1477.2 107.0 1478.7 115.2 1480.2 82.7 1481.7 62.8 1483.3 93.6 1484.8 114.6 1486.3 114.3 1487.8 86.8 1489.4 91.3 1490.9 97.8 1492.4 64.7 1493.9 79.8 1495.5 81.8 1497.0 117.8 1498.5 85.3 1500.1 117.9 1501.6 96.1 1503.1 66.6 1504.6 124.3 1506.2 81.0 1507.7 102.1 1509.2 121.8 1510.7 87.6 1512.3 73.0 1513.8 108.1 1515.3 95.9 1516.8 73.8 1518.4 74.0 1519.9 85.1 1521.4 108.1 1522.9 90.2 1524.5 103.6 1526.0 121.0 1527.5 116.6 1529.1 118.8 1530.6 115.7 1532.1 69.6 1533.6 110.6 1535.2 100.3 1536.7 91.9 1538.2 130.2 1539.7 65.8 1541.3 72.5 1542.8 90.8 1544.3 74.0 1545.8 78.1 1547.4 81.7 1548.9 102.8 1550.4 60.5 1551.9 90.4 1553.5 114.3 1555.0 90.1 1556.5 102.5 1558.0 77.0 1559.6 96.8 1561.1 95.4 1562.6 96.1 1564.2 85.8 1565.7 75.7 1567.2 86.5 1568.7 84.8 1570.3 108.9 1571.8 109.2 1573.3 75.2 1574.8 101.3 1576.4 86.1 1577.9 99.7 1579.4 85.9 1580.9 68.5 1582.5 106.9 1584.0 101.6 1585.5 74.0 1587.0 62.1 1588.6 81.0 1590.1 72.6 1591.6 85.0 1593.2 102.1 1594.7 130.2 1596.2 89.6 1597.7 114.7 1599.3 113.8 1600.8 87.9 1602.3 65.4 1603.8 103.8 1605.4 103.7 1606.9 123.6 1608.4 119.8 1609.9 108.1 1611.5 121.6 1613.0 78.8 1614.5 94.5 1616.0 88.6 1617.6 120.5 1619.1 104.7 1620.6 61.9 1622.1 110.1 1623.7 79.9 1625.2 104.0 1626.7 86.2 1628.3 96.1 1629.8 146.0 1631.3 97.0 1632.8 77.9 1634.4 113.9 1635.9 101.3 1637.4 93.4 1638.9 104.3 1640.5 85.3 1642.0 122.5 1643.5 99.4 1645.0 99.4 1646.6 99.1 1648.1 78.7 1649.6 72.5 1651.1 54.9 1652.7 98.6 1654.2 115.1 1655.7 102.3 1657.3 76.2 1658.8 99.6 1660.3 106.8 1661.8 54.2 1663.4 99.9 1664.9 73.7 1666.4 109.6 1667.9 82.6 1669.5 101.0 1671.0 68.1 1672.5 102.6 1674.0 81.0 1675.6 56.0 1677.1 122.8 1678.6 114.5 1680.1 76.0 1681.7 75.7 1683.2 76.9 1684.7 101.7 1686.2 99.1 1687.8 95.8 1689.3 97.9 1690.8 102.4 1692.4 104.0 1693.9 120.9 1695.4 94.4 1696.9 96.0 1698.5 62.9 1700.0 68.1 1701.5 78.8 1703.0 71.9 1704.6 93.9 1706.1 109.3 1707.6 87.0 1709.1 83.9 1710.7 83.2 1712.2 93.4 1713.7 83.5 1715.2 98.2 1716.8 97.6 1718.3 98.3"/>
<path class="d" stroke="#ff00ff" d="M955.2 605.9 956.7 514.7 958.3 485.2 959.8 467.2 961.3 448.0 962.8 433.7 964.4 417.9 965.9 401.8 967.4 387.3 968.9 372.8 970.5 363.9 972.0 348.2 973.5 336.4 975.0 335.3 976.6 314.9 978.1 312.0 979.6 293.8 981.1 288.8 982.7 265.9 984.2 263.7 985.7 278.0 987.3 263.4 988.8 258.1 990.3 243.4 991.8 244.3 993.4 214.2 994.9 209.5 996.4 223.2 997.9 227.4 999.5 208.8 1001.0 207.3 1002.5 202.0 1004.0 201.3 1005.6 183.7 1007.1 176.1 1008.6 194.0 1010.1 168.9 1011.7 176.4 1013.2 180.4 1014.7 173.1 1016.2 190.7 1017.8 180.5 1019.3 184.7 1020.8 170.1 1022.4 172.3 1023.9 191.5 1025.4 190.6 1026.9 176.9 1028.5 188.0 1030.0 185.3 1031.5 183.5 1033.0 205.1 1034.6 174.6 1036.1 183.5 1037.6 183.4 1039.1 171.9 1040.7 154.5 1042.2 180.9 1043.7 175.2 1045.2 169.6 1046.8 167.1 1048.3 165.2 1049.8 148.7 1051.4 164.7 1052.9 130.2 1054.4 153.2 1055.9 129.5 1057.5 143.4 1059.0 159.8 1060.5 143.5 1062.0 136.1 1063.6 151.3 1065.1 140.0 1066.6 136.3 1068.1 135.9 1069.7 166.3 1071.2 155.4 1072.7 151.1 1074.2 123.5 1075.8 149.6 1077.3 121.1 1078.8 146.6 1080.3 123.1 1081.9 170.0 1083.4 115.8 1084.9 157.0 1086.5 154.0 1088.0 111.9 1089.5 132.2 1091.0 161.1 1092.6 158.8 1094.1 170.7 1095.6 126.7 1097.1 117.3 1098.7 118.5 1100.2 124.5 1101.7 164.9 1103.2 141.1 1104.8 132.7 1106.3 129.8 1107.8 145.4 1109.3 147.1 1110.9 121.0 1112.4 156.7 1113.9 118.8 1115.5 127.8 1117.0 140.1 1118.5 161.4 1120.0 130.1 1121.6 176.3 1123.1 153.8 1124.6 144.2 1126.1 151.1 1127.7 150.1 1129.2 137.2 1130.7 162.8 1132.2 146.3 1133.8 131.2 1135.3 155.5 1136.8 99.8 1138.3 111.1 1139.9 150.0 1141.4 137.1 1142.9 118.2 1144.4 132.5 1146.0 145.0 1147.5 119.3 1149.0 137.8 1150.6 125.0 1152.1 123.5 1153.6 161.7 1155.1 142.4 1156.7 107.9 1158.2 116.3 1159.7 133.4 1161.2 104.4 1162.8 95.3 1164.3 128.7 1165.8 122.6 1167.3 119.2 1168.9 123.2 1170.4 105.3 1171.9 152.3 1173.4 108.6 1175.0 111.4 1176.5 95.4 1178.0 109.7 1179.6 142.1 1181.1 120.7 1182.6 127.5 1184.1 110.4 1185.7 145.4 1187.2 122.0 1188.7 96.5 1190.2 126.2 1191.8 110.4 1193.3 124.2 1194.8 117.7 1196.3 118.7 1197.9 116.5 1199.4 99.3 1200.9 87.8 1202.4 126.5 1204.0 112.2 1205.5 117.4 1207.0 105.7 1208.5 82.8 1210.1 88.4 1211.6 132.2 1213.1 101.3 1214.7 104.5 1216.2 87.1 1217.7 100.4 1219.2 104.0 1220.8 106.7 1222.3 109.1 1223.8 100.2 1225.3 100.0 1226.9 108.9 1228.4 115.0 1229.9 108.0 1231.4 137.5 1233.0 115.5 1234.5 112.4 1236.0 98.7 1237.5 124.3 1239.1 93.6 1240.6 80.8 1242.1 89.7 1243.7 116.1 1245.2 90.1 1246.7 126.7 1248.2 108.9 1249.8 82.9 1251.3 100.9 1252.8 135.0 1254.3 95.5 1255.9 134.7 1257.4 112.3 1258.9 127.7 1260.4 124.4 1262.0 102.2 1263.5 132.5 1265.0 110.8 1266.5 72.9 1268.1 137.0 1269.6 106.6 1271.1 125.6 1272.6 100.8 1274.2 113.3 1275.7 89.8 1277.2 90.0 1278.8 108.8 1280.3 89.4 1281.8 116.0 1283.3 95.3 1284.9 103.2 1286.4 101.2 1287.9 96.8 1289.4 103.7 1291.0 119.5 1292.5 133.9 1294.0 87.6 1295.5 104.8 1297.1 98.7 1298.6 86.0 1300.1 104.1 1301.6 87.0 1303.2 98.2 1304.7 120.5 1306.2 71.2 1307.8 101.6 1309.3 107.9 1310.8 85.8 1312.3 107.4 1313.9 106.7 1315.4 95.3 1316.9 119.3 1318.4 81.0 1320.0 108.6 1321.5 97.1 1323.0 82.6 1324.5 95.3 1326.1 93.7 1327.6 112.4 1329.1 76.8 1330.6 62.7 1332.2 91.7 1333.7 124.1 1335.2 68.4 1336.8 114.9 1338.3 72.5 1339.8 102.1 1341.3 97.2 1342.9 105.0 1344.4 88.2 1345.9 69.5 1347.4 142.6 1349.0 117.1 1350.5 103.9 1352.0 85.2 1353.5 111.7 1355.1 87.7 1356.6 85.4 1358.1 77.4 1359.6 115.1 1361.2 130.4 1362.7 85.8 1364.2 101.4 1365.7 114.0 1367.3 125.7 1368.8 68.5 1370.3 96.4 1371.9 107.9 1373.4 74.6 1374.9 101.7 1376.4 100.9 1378.0 109.3 1379.5 89.0 1381.0 103.0 1382.5 87.9 1384.1 105.8 1385.6 100.3 1387.1 91.1 1388.6 73.3 1390.2 120.9 1391.7 116.9 1393.2 63.9 1394.7 87.4 1396.3 89.9 1397.8 122.6 1399.3 110.9 1400.9 84.0 1402.4 95.7 1403.9 98.3 1405.4 93.1 1407.0 80.5 1408.5 114.6 1410.0 107.3 1411.5 93.8 1413.1 70.2 1414.6 83.8 1416.1 94.4 1417.6 109.5 1419.2 91.0 1420.7 113.0 1422.2 99.5 1423.7 83.8 1425.3 66.1 1426.8 71.8 1428.3 68.9 1429.8 90.1 1431.4 100.0 1432.9 118.1 1434.4 97.2 1436.0 76.5 1437.5 127.2 1439.0 103.6 1440.5 91.5 1442.1 90.2 1443.6 72.5 1445.1 102.7 1446.6 101.5 1448.2 120.9 1449.7 115.0 1451.2 110.6 1452.7 116.4 1454.3 92.0 1455.8 87.0 1457.3 92.8 1458.8 74.0 1460.4 89.9 1461.9 88.5 1463.4 104.5 1465.0 95.1 1466.5 64.7 1468.0 91.8 1469.5 117.0 1471.1 57.1 1472.6 79.4 1474.1 93.2 1475.6 72.9 1477.2 83.4 1478.7 94.3 1480.2 73.2 1481.7 97.1 1483.3 126.8 1484.8 74.8 1486.3 93.0 1487.8 111.8 1489.4 93.5 1490.9 101.5 1492.4 105.7 1493.9 92.0 1495.5 110.2 1497.0 102.4 1498.5 79.5 1500.1 101.6 1501.6 109.4 1503.1 109.2 1504.6 85.8 1506.2 101.3 1507.7 117.6 1509.2 100.8 1510.7 114.6 1512.3 117.8 1513.8 96.6 1515.3 105.7 1516.8 91.3 1518.4 111.8 1519.9 95.2 1521.4 86.1 1522.9 93.7 1524.5 93.7 1526.0 101.0 1527.5 103.1 1529.1 77.0 1530.6 82.7 1532.1 99.6 1533.6 103.3 1535.2 97.3 1536.7 126.3 1538.2 117.4 1539.7 96.1 1541.3 107.0 1542.8 118.0 1544.3 138.8 1545.8 67.9 1547.4 94.1 1548.9 96.0 1550.4 126.3 1551.9 69.1 1553.5 117.7 1555.0 95.1 1556.5 110.4 1558.0 92.2 1559.6 98.0 1561.1 114.0 1562.6 98.7 1564.2 112.9 1565.7 96.0 1567.2 89.0 1568.7 91.4 1570.3 87.1 1571.8 92.8 1573.3 117.3 1574.8 78.9 1576.4 67.2 1577.9 143.3 1579.4 122.5 1580.9 115.3 1582.5 119.0 1584.0 118.2 1585.5 86.2 1587.0 96.7 1588.6 64.7 1590.1 81.7 1591.6 104.2 1593.2 71.5 1594.7 64.7 1596.2 71.3 1597.7 96.9 1599.3 114.8 1600.8 126.3 1602.3 123.4 1603.8 74.3 1605.4 64.7 1606.9 132.5 1608.4 113.0 1609.9 71.7 1611.5 85.3 1613.0 87.8 1614.5 95.9 1616.0 93.3 1617.6 104.3 1619.1 114.2 1620.6 99.3 1622.1 108.8 1623.7 126.3 1625.2 83.3 1626.7 78.3 1628.3 102.9 1629.8 126.3 1631.3 102.3 1632.8 114.8 1634.4 93.5 1635.9 111.2 1637.4 88.1 1638.9 106.8 1640.5 104.2 1642.0 103.9 1643.5 119.8 1645.0 116.4 1646.6 89.2 1648.1 110.5 1649.6 71.0 1651.1 110.4 1652.7 126.3 1654.2 141.0 1655.7 106.7 1657.3 99.2 1658.8 110.9 1660.3 91.4 1661.8 107.6 1663.4 94.1 1664.9 90.3 1666.4 98.8 1667.9 96.7 1669.5 69.5 1671.0 126.3 1672.5 103.0 1674.0 70.8 1675.6 112.4 1677.1 98.7 1678.6 101.1 1680.1 109.4 1681.7 84.4 1683.2 64.7 1684.7 91.2 1686.2 101.0 1687.8 114.2 1689.3 87.1 1690.8 92.4 1692.4 103.6 1693.9 93.2 1695.4 93.2 1696.9 101.4 1698.5 82.0 1700.0 121.7 1701.5 85.2 1703.0 97.0 1704.6 92.3 1706.1 85.7 1707.6 105.1 1709.1 114.7 1710.7 62.7 1712.2 109.6 1713.7 91.6 1715.2 111.0 1716.8 75.7 1718.3 96.2"/>
<path class="d" stroke="#9e3300" d="M955.2 605.9 956.7 515.0 958.3 484.1 959.8 462.2 961.3 451.0 962.8 431.1 964.4 412.7 965.9 398.8 967.4 389.3 968.9 382.7 970.5 365.4 972.0 359.3 973.5 342.3 975.0 331.5 976.6 323.6 978.1 301.5 979.6 293.8 981.1 279.1 982.7 267.9 984.2 273.6 985.7 253.9 987.3 257.2 988.8 242.9 990.3 244.9 991.8 235.1 993.4 249.6 994.9 233.8 996.4 230.4 997.9 249.0 999.5 197.6 1001.0 203.0 1002.5 191.9 1004.0 213.4 1005.6 221.4 1007.1 223.6 1008.6 216.9 1010.1 197.2 1011.7 234.0 1013.2 213.9 1014.7 201.7 1016.2 185.6 1017.8 206.6 1019.3 194.0 1020.8 192.7 1022.4 202.1 1023.9 202.6 1025.4 185.7 1026.9 215.9 1028.5 182.8 1030.0 176.9 1031.5 198.1 1033.0 196.6 1034.6 194.8 1036.1 186.3 1037.6 191.9 1039.1 182.1 1040.7 162.3 1042.2 196.6 1043.7 170.1 1045.2 178.2 1046.8 192.6 1048.3 180.8 1049.8 207.7 1051.4 157.1 1052.9 159.7 1054.4 172.0 1055.9 192.3 1057.5 167.0 1059.0 143.9 1060.5 181.7 1062.0 150.8 1063.6 158.7 1065.1 176.2 1066.6 152.2 1068.1 152.6 1069.7 167.0 1071.2 156.6 1072.7 162.7 1074.2 142.7 1075.8 190.9 1077.3 138.0 1078.8 128.2 1080.3 180.0 1081.9 163.4 1083.4 168.5 1084.9 184.2 1086.5 149.5 1088.0 147.4 1089.5 127.1 1091.0 156.3 1092.6 138.3 1094.1 144.4 1095.6 123.3 1097.1 161.2 1098.7 160.8 1100.2 154.4 1101.7 132.2 1103.2 135.5 1104.8 163.8 1106.3 142.0 1107.8 148.1 1109.3 146.2 1110.9 125.2 1112.4 165.3 1113.9 112.2 1115.5 142.1 1117.0 139.6 1118.5 114.2 1120.0 142.6 1121.6 148.0 1123.1 140.6 1124.6 125.1 1126.1 143.8 1127.7 155.9 1129.2 142.2 1130.7 164.7 1132.2 152.6 1133.8 149.6 1135.3 159.0 1136.8 126.5 1138.3 125.1 1139.9 141.4 1141.4 142.7 1142.9 158.5 1144.4 153.9 1146.0 137.4 1147.5 136.1 1149.0 127.7 1150.6 125.1 1152.1 123.1 1153.6 144.4 1155.1 124.0 1156.7 123.5 1158.2 131.4 1159.7 121.1 1161.2 124.3 1162.8 97.3 1164.3 130.5 1165.8 123.0 1167.3 130.0 1168.9 133.2 1170.4 97.4 1171.9 158.3 1173.4 132.3 1175.0 129.4 1176.5 97.2 1178.0 132.6 1179.6 132.6 1181.1 162.8 1182.6 128.3 1184.1 145.6 1185.7 157.2 1187.2 109.2 1188.7 143.8 1190.2 129.8 1191.8 121.0 1193.3 151.1 1194.8 128.8 1196.3 120.0 1197.9 125.9 1199.4 115.5 1200.9 124.2 1202.4 123.8 1204.0 151.6 1205.5 151.6 1207.0 124.7 1208.5 126.6 1210.1 129.7 1211.6 133.1 1213.1 124.5 1214.7 127.7 1216.2 144.8 1217.7 113.6 1219.2 134.2 1220.8 87.4 1222.3 120.3 1223.8 145.7 1225.3 92.0 1226.9 156.1 1228.4 89.9 1229.9 118.9 1231.4 141.9 1233.0 141.6 1234.5 102.7 1236.0 92.1 1237.5 88.5 1239.1 122.6 1240.6 107.9 1242.1 112.5 1243.7 116.8 1245.2 119.4 1246.7 121.4 1248.2 114.7 1249.8 85.8 1251.3 132.1 1252.8 79.2 1254.3 126.3 1255.9 102.2 1257.4 106.0 1258.9 100.9 1260.4 102.6 1262.0 108.2 1263.5 104.3 1265.0 90.5 1266.5 120.3 1268.1 100.0 1269.6 128.7 1271.1 107.2 1272.6 95.9 1274.2 113.0 1275.7 121.7 1277.2 93.1 1278.8 100.4 1280.3 128.5 1281.8 91.9 1283.3 90.4 1284.9 106.4 1286.4 85.5 1287.9 73.3 1289.4 73.4 1291.0 107.2 1292.5 114.8 1294.0 114.4 1295.5 110.8 1297.1 84.1 1298.6 112.0 1300.1 142.6 1301.6 93.5 1303.2 117.0 1304.7 98.1 1306.2 105.2 1307.8 108.7 1309.3 79.1 1310.8 123.7 1312.3 90.6 1313.9 99.4 1315.4 69.5 1316.9 108.6 1318.4 109.6 1320.0 103.0 1321.5 124.7 1323.0 108.6 1324.5 95.9 1326.1 70.0 1327.6 92.2 1329.1 95.8 1330.6 86.7 1332.2 85.9 1333.7 109.2 1335.2 118.7 1336.8 131.1 1338.3 122.6 1339.8 91.6 1341.3 104.0 1342.9 79.0 1344.4 110.2 1345.9 107.2 1347.4 91.2 1349.0 97.7 1350.5 96.0 1352.0 89.5 1353.5 120.4 1355.1 130.1 1356.6 58.2 1358.1 118.8 1359.6 104.3 1361.2 94.5 1362.7 137.0 1364.2 97.1 1365.7 53.3 1367.3 98.1 1368.8 108.7 1370.3 99.4 1371.9 108.7 1373.4 79.6 1374.9 95.4 1376.4 120.7 1378.0 61.6 1379.5 86.5 1381.0 137.0 1382.5 107.2 1384.1 116.6 1385.6 66.8 1387.1 97.3 1388.6 77.6 1390.2 73.6 1391.7 102.3 1393.2 117.5 1394.7 75.7 1396.3 54.2 1397.8 86.3 1399.3 94.4 1400.9 75.7 1402.4 127.6 1403.9 110.3 1405.4 92.8 1407.0 88.4 1408.5 127.3 1410.0 127.2 1411.5 93.0 1413.1 102.1 1414.6 117.6 1416.1 79.6 1417.6 85.3 1419.2 117.2 1420.7 87.2 1422.2 88.3 1423.7 73.6 1425.3 81.5 1426.8 105.6 1428.3 83.5 1429.8 73.4 1431.4 83.2 1432.9 123.0 1434.4 101.1 1436.0 86.8 1437.5 96.9 1439.0 134.7 1440.5 97.8 1442.1 65.9 1443.6 96.8 1445.1 91.5 1446.6 108.0 1448.2 74.0 1449.7 109.4 1451.2 87.8 1452.7 65.9 1454.3 112.9 1455.8 87.6 1457.3 99.4 1458.8 91.8 1460.4 111.4 1461.9 113.6 1463.4 114.0 1465.0 107.5 1466.5 69.0 1468.0 64.1 1469.5 94.1 1471.1 78.4 1472.6 99.9 1474.1 97.2 1475.6 71.2 1477.2 128.0 1478.7 73.5 1480.2 77.4 1481.7 88.9 1483.3 104.5 1484.8 116.7 1486.3 80.4 1487.8 83.4 1489.4 118.2 1490.9 110.9 1492.4 99.4 1493.9 63.2 1495.5 73.8 1497.0 94.5 1498.5 84.4 1500.1 124.8 1501.6 98.6 1503.1 99.1 1504.6 76.6 1506.2 75.3 1507.7 81.3 1509.2 82.6 1510.7 89.1 1512.3 99.6 1513.8 98.5 1515.3 110.8 1516.8 73.7 1518.4 95.5 1519.9 98.1 1521.4 120.4 1522.9 93.2 1524.5 99.3 1526.0 81.3 1527.5 99.8 1529.1 101.2 1530.6 84.6 1532.1 86.1 1533.6 92.8 1535.2 103.5 1536.7 76.4 1538.2 106.9 1539.7 90.1 1541.3 124.8 1542.8 121.1 1544.3 90.3 1545.8 83.7 1547.4 125.2 1548.9 108.5 1550.4 105.0 1551.9 88.5 1553.5 91.6 1555.0 107.2 1556.5 105.7 1558.0 82.0 1559.6 113.4 1561.1 101.3 1562.6 79.6 1564.2 109.2 1565.7 93.0 1567.2 107.1 1568.7 86.7 1570.3 99.6 1571.8 68.5 1573.3 98.0 1574.8 70.1 1576.4 94.7 1577.9 63.7 1579.4 89.3 1580.9 105.8 1582.5 103.6 1584.0 114.9 1585.5 79.1 1587.0 118.6 1588.6 123.1 1590.1 77.9 1591.6 80.0 1593.2 83.8 1594.7 51.0 1596.2 97.5 1597.7 63.9 1599.3 100.3 1600.8 91.1 1602.3 77.7 1603.8 108.4 1605.4 90.4 1606.9 112.8 1608.4 105.2 1609.9 90.5 1611.5 113.4 1613.0 109.7 1614.5 88.0 1616.0 67.8 1617.6 83.1 1619.1 103.6 1620.6 91.8 1622.1 123.2 1623.7 101.8 1625.2 98.6 1626.7 101.7 1628.3 81.1 1629.8 91.4 1631.3 83.7 1632.8 64.1 1634.4 64.1 1635.9 144.8 1637.4 88.5 1638.9 92.2 1640.5 70.5 1642.0 82.9 1643.5 106.4 1645.0 97.6 1646.6 86.7 1648.1 119.0 1649.6 96.3 1651.1 89.4 1652.7 113.0 1654.2 68.5 1655.7 101.3 1657.3 77.5 1658.8 80.4 1660.3 82.4 1661.8 95.8 1663.4 96.8 1664.9 100.1 1666.4 98.9 1667.9 118.2 1669.5 124.9 1671.0 109.6 1672.5 108.8 1674.0 90.3 1675.6 76.7 1677.1 102.9 1678.6 96.5 1680.1 109.2 1681.7 66.9 1683.2 126.0 1684.7 78.6 1686.2 94.1 1687.8 111.2 1689.3 74.3 1690.8 84.1 1692.4 64.5 1693.9 68.6 1695.4 64.5 1696.9 93.5 1698.5 99.9 1700.0 90.6 1701.5 115.4 1703.0 119.9 1704.6 97.7 1706.1 92.0 1707.6 90.6 1709.1 87.5 1710.7 115.8 1712.2 101.3 1713.7 90.6 1715.2 91.2 1716.8 103.9 1718.3 89.8"/>
<path class="d" stroke="#008000" d="M955.2 605.9 956.7 514.6 958.3 486.4 959.8 466.4 961.3 445.1 962.8 430.9 964.4 419.6 965.9 402.0 967.4 392.5 968.9 378.7 970.5 367.5 972.0 351.7 973.5 341.4 975.0 331.1 976.6 304.4 978.1 294.2 979.6 280.8 981.1 297.0 982.7 279.9 984.2 273.4 985.7 266.6 987.3 253.8 988.8 245.4 990.3 259.1 991.8 241.4 993.4 259.7 994.9 240.0 996.4 235.9 997.9 230.2 999.5 230.5 1001.0 230.9 1002.5 251.0 1004.0 255.5 1005.6 213.4 1007.1 228.2 1008.6 236.1 1010.1 211.3 1011.7 212.2 1013.2 214.3 1014.7 192.1 1016.2 227.1 1017.8 219.9 1019.3 217.6 1020.8 219.2 1022.4 221.2 1023.9 245.9 1025.4 221.8 1026.9 228.2 1028.5 206.6 1030.0 215.5 1031.5 203.2 1033.0 202.1 1034.6 187.4 1036.1 184.7 1037.6 202.2 1039.1 206.1 1040.7 200.0 1042.2 180.0 1043.7 192.5 1045.2 156.0 1046.8 196.7 1048.3 184.5 1049.8 187.0 1051.4 200.4 1052.9 174.7 1054.4 193.2 1055.9 171.1 1057.5 183.5 1059.0 168.1 1060.5 176.7 1062.0 194.8 1063.6 161.5 1065.1 157.7 1066.6 160.8 1068.1 170.2 1069.7 195.1 1071.2 158.6 1072.7 131.0 1074.2 147.1 1075.8 132.7 1077.3 146.8 1078.8 156.4 1080.3 140.4 1081.9 142.2 1083.4 122.2 1084.9 152.1 1086.5 139.6 1088.0 167.5 1089.5 169.2 1091.0 137.8 1092.6 142.3 1094.1 149.0 1095.6 175.2 1097.1 121.9 1098.7 143.4 1100.2 176.4 1101.7 147.6 1103.2 149.2 1104.8 145.3 1106.3 125.1 1107.8 157.2 1109.3 148.9 1110.9 145.9 1112.4 154.2 1113.9 155.5 1115.5 111.7 1117.0 145.3 1118.5 130.9 1120.0 140.9 1121.6 127.3 1123.1 123.0 1124.6 151.4 1126.1 138.2 1127.7 132.0 1129.2 130.8 1130.7 136.3 1132.2 135.2 1133.8 103.6 1135.3 117.2 1136.8 129.4 1138.3 146.5 1139.9 158.0 1141.4 121.9 1142.9 164.4 1144.4 139.1 1146.0 142.8 1147.5 168.4 1149.0 123.6 1150.6 156.3 1152.1 132.7 1153.6 132.1 1155.1 152.3 1156.7 163.2 1158.2 112.3 1159.7 167.3 1161.2 132.7 1162.8 162.5 1164.3 162.5 1165.8 136.5 1167.3 139.3 1168.9 160.6 1170.4 152.8 1171.9 129.4 1173.4 146.0 1175.0 122.4 1176.5 99.8 1178.0 105.4 1179.6 132.8 1181.1 144.7 1182.6 99.2 1184.1 99.1 1185.7 127.8 1187.2 98.8 1188.7 134.9 1190.2 148.4 1191.8 162.8 1193.3 138.9 1194.8 128.7 1196.3 153.6 1197.9 137.5 1199.4 127.2 1200.9 131.7 1202.4 145.1 1204.0 134.1 1205.5 130.2 1207.0 105.6 1208.5 137.0 1210.1 129.2 1211.6 156.2 1213.1 130.3 1214.7 126.1 1216.2 116.6 1217.7 137.2 1219.2 124.0 1220.8 114.2 1222.3 150.3 1223.8 153.4 1225.3 120.6 1226.9 107.5 1228.4 140.7 1229.9 112.0 1231.4 151.7 1233.0 125.4 1234.5 147.1 1236.0 103.1 1237.5 119.6 1239.1 139.3 1240.6 130.3 1242.1 113.3 1243.7 148.9 1245.2 136.3 1246.7 163.9 1248.2 109.8 1249.8 114.0 1251.3 140.4 1252.8 108.4 1254.3 117.9 1255.9 104.7 1257.4 136.7 1258.9 116.6 1260.4 130.9 1262.0 127.5 1263.5 108.4 1265.0 127.2 1266.5 132.8 1268.1 99.4 1269.6 126.0 1271.1 144.2 1272.6 117.1 1274.2 126.4 1275.7 151.6 1277.2 121.1 1278.8 106.6 1280.3 127.0 1281.8 115.7 1283.3 96.2 1284.9 131.1 1286.4 113.1 1287.9 149.3 1289.4 114.2 1291.0 98.9 1292.5 119.4 1294.0 113.9 1295.5 108.2 1297.1 124.4 1298.6 94.3 1300.1 127.8 1301.6 82.6 1303.2 136.7 1304.7 118.8 1306.2 139.2 1307.8 101.0 1309.3 120.9 1310.8 111.3 1312.3 109.9 1313.9 129.4 1315.4 107.3 1316.9 108.2 1318.4 119.1 1320.0 130.5 1321.5 111.6 1323.0 114.7 1324.5 113.0 1326.1 124.1 1327.6 137.3 1329.1 99.0 1330.6 108.1 1332.2 110.3 1333.7 120.8 1335.2 136.6 1336.8 113.3 1338.3 156.1 1339.8 129.7 1341.3 92.3 1342.9 96.2 1344.4 101.7 1345.9 109.3 1347.4 113.9 1349.0 148.2 1350.5 137.8 1352.0 101.1 1353.5 105.5 1355.1 126.9 1356.6 123.8 1358.1 110.5 1359.6 115.5 1361.2 123.1 1362.7 110.1 1364.2 119.5 1365.7 94.8 1367.3 108.3 1368.8 81.5 1370.3 91.0 1371.9 87.7 1373.4 126.4 1374.9 102.1 1376.4 112.0 1378.0 92.9 1379.5 102.6 1381.0 102.2 1382.5 92.6 1384.1 119.6 1385.6 80.9 1387.1 114.4 1388.6 135.0 1390.2 97.4 1391.7 105.9 1393.2 80.6 1394.7 103.0 1396.3 77.0 1397.8 113.0 1399.3 98.1 1400.9 74.3 1402.4 80.8 1403.9 133.6 1405.4 97.2 1407.0 117.8 1408.5 99.2 1410.0 84.4 1411.5 88.3 1413.1 104.2 1414.6 71.4 1416.1 109.3 1417.6 110.8 1419.2 71.3 1420.7 118.8 1422.2 77.9 1423.7 72.9 1425.3 121.9 1426.8 78.0 1428.3 71.1 1429.8 81.1 1431.4 82.8 1432.9 98.4 1434.4 93.5 1436.0 93.5 1437.5 93.7 1439.0 98.6 1440.5 87.9 1442.1 106.3 1443.6 102.7 1445.1 85.6 1446.6 70.6 1448.2 84.1 1449.7 112.5 1451.2 90.9 1452.7 107.0 1454.3 111.2 1455.8 117.2 1457.3 127.1 1458.8 90.8 1460.4 132.0 1461.9 113.4 1463.4 89.9 1465.0 78.6 1466.5 131.9 1468.0 131.9 1469.5 105.0 1471.1 115.0 1472.6 125.2 1474.1 106.1 1475.6 95.6 1477.2 100.9 1478.7 115.9 1480.2 103.9 1481.7 82.0 1483.3 112.5 1484.8 74.6 1486.3 86.9 1487.8 120.9 1489.4 107.8 1490.9 106.4 1492.4 104.1 1493.9 119.1 1495.5 102.7 1497.0 69.7 1498.5 102.6 1500.1 150.4 1501.6 69.5 1503.1 123.9 1504.6 121.0 1506.2 95.8 1507.7 99.7 1509.2 102.7 1510.7 118.1 1512.3 132.5 1513.8 85.7 1515.3 89.4 1516.8 102.4 1518.4 105.7 1519.9 95.1 1521.4 113.1 1522.9 85.4 1524.5 98.3 1526.0 89.3 1527.5 83.2 1529.1 119.4 1530.6 97.5 1532.1 84.0 1533.6 99.8 1535.2 84.2 1536.7 109.0 1538.2 115.6 1539.7 119.2 1541.3 85.1 1542.8 96.7 1544.3 130.2 1545.8 100.1 1547.4 121.4 1548.9 127.8 1550.4 146.0 1551.9 118.5 1553.5 114.7 1555.0 116.3 1556.5 129.9 1558.0 140.3 1559.6 102.7 1561.1 110.7 1562.6 95.7 1564.2 108.0 1565.7 68.1 1567.2 125.5 1568.7 94.0 1570.3 108.5 1571.8 106.2 1573.3 102.5 1574.8 102.3 1576.4 101.5 1577.9 73.3 1579.4 88.5 1580.9 118.7 1582.5 85.2 1584.0 81.3 1585.5 129.7 1587.0 123.4 1588.6 128.3 1590.1 102.8 1591.6 104.9 1593.2 113.2 1594.7 110.7 1596.2 99.8 1597.7 76.0 1599.3 85.6 1600.8 73.8 1602.3 123.4 1603.8 95.8 1605.4 96.6 1606.9 104.3 1608.4 100.7 1609.9 108.7 1611.5 90.5 1613.0 73.8 1614.5 126.1 1616.0 90.7 1617.6 91.1 1619.1 85.8 1620.6 89.3 1622.1 99.0 1623.7 111.9 1625.2 83.6 1626.7 102.8 1628.3 88.9 1629.8 118.3 1631.3 81.2 1632.8 99.4 1634.4 111.3 1635.9 78.4 1637.4 99.2 1638.9 101.9 1640.5 86.6 1642.0 94.6 1643.5 115.2 1645.0 105.0 1646.6 93.2 1648.1 95.4 1649.6 106.3 1651.1 120.8 1652.7 114.5 1654.2 112.8 1655.7 126.2 1657.3 76.8 1658.8 73.6 1660.3 140.3 1661.8 108.9 1663.4 68.1 1664.9 94.9 1666.4 111.1 1667.9 77.6 1669.5 86.2 1671.0 93.6 1672.5 110.5 1674.0 75.5 1675.6 101.9 1677.1 110.7 1678.6 102.6 1680.1 102.0 1681.7 119.7 1683.2 104.7 1684.7 138.1 1686.2 93.6 1687.8 109.1 1689.3 95.3 1690.8 109.3 1692.4 101.7 1693.9 117.6 1695.4 88.0 1696.9 138.1 1698.5 104.7 1700.0 106.2 1701.5 118.1 1703.0 107.3 1704.6 114.5 1706.1 129.7 1707.6 134.7 1709.1 83.5 1710.7 74.3 1712.2 107.3 1713.7 93.7 1715.2 103.1 1716.8 96.6 1718.3 119.9"/>
</g>
<rect x="682.0" y="393.5" width="137.30" height="196.00" fill="#fff" stroke="#262626" stroke-width="3.3"/><path d="M691.1 412.10 H744.1" stroke="#0000ff" stroke-width="1.3" fill="none"/><text transform="translate(749.60,421.10) scale(1,1.0)" font-size="24.3" fill="#000" stroke="#000" stroke-width="0.4">V=0.5</text><path d="M691.1 443.85 H744.1" stroke="#ff0000" stroke-width="1.3" fill="none"/><text transform="translate(749.60,452.85) scale(1,1.0)" font-size="24.3" fill="#000" stroke="#000" stroke-width="0.4">V=1.0</text><path d="M691.1 475.60 H744.1" stroke="#000000" stroke-width="1.3" fill="none"/><text transform="translate(749.60,484.60) scale(1,1.0)" font-size="24.3" fill="#000" stroke="#000" stroke-width="0.4">V=1.6</text><path d="M691.1 507.35 H744.1" stroke="#ff00ff" stroke-width="1.3" fill="none"/><text transform="translate(749.60,516.35) scale(1,1.0)" font-size="24.3" fill="#000" stroke="#000" stroke-width="0.4">V=2.4</text><path d="M691.1 539.10 H744.1" stroke="#9e3300" stroke-width="1.3" fill="none"/><text transform="translate(749.60,548.10) scale(1,1.0)" font-size="24.3" fill="#000" stroke="#000" stroke-width="0.4">V=2.5</text><path d="M691.1 570.85 H744.1" stroke="#008000" stroke-width="1.3" fill="none"/><text transform="translate(749.60,579.85) scale(1,1.0)" font-size="24.3" fill="#000" stroke="#000" stroke-width="0.4">V=3.0</text>
<rect x="1546.3" y="401.0" width="155.30" height="188.60" fill="#fff" stroke="#262626" stroke-width="3.3"/><path d="M1556.1 419.50 H1608.7" stroke="#0000ff" stroke-width="1.3" fill="none"/><text transform="translate(1613.60,428.50) scale(1.19,1)" font-size="24.3" fill="#000" stroke="#000" stroke-width="0.3">Δ</text><text transform="translate(1633.50,428.50) scale(1,1.0)" font-size="24.3" fill="#000" stroke="#000" stroke-width="0.4">=0.05</text><path d="M1556.1 449.85 H1608.7" stroke="#ff0000" stroke-width="1.3" fill="none"/><text transform="translate(1613.60,458.85) scale(1.19,1)" font-size="24.3" fill="#000" stroke="#000" stroke-width="0.3">Δ</text><text transform="translate(1633.50,458.85) scale(1,1.0)" font-size="24.3" fill="#000" stroke="#000" stroke-width="0.4">=0.1</text><path d="M1556.1 480.20 H1608.7" stroke="#000000" stroke-width="1.3" fill="none"/><text transform="translate(1613.60,489.20) scale(1.19,1)" font-size="24.3" fill="#000" stroke="#000" stroke-width="0.3">Δ</text><text transform="translate(1633.50,489.20) scale(1,1.0)" font-size="24.3" fill="#000" stroke="#000" stroke-width="0.4">=0.2</text><path d="M1556.1 510.55 H1608.7" stroke="#ff00ff" stroke-width="1.3" fill="none"/><text transform="translate(1613.60,519.55) scale(1.19,1)" font-size="24.3" fill="#000" stroke="#000" stroke-width="0.3">Δ</text><text transform="translate(1633.50,519.55) scale(1,1.0)" font-size="24.3" fill="#000" stroke="#000" stroke-width="0.4">=0.3</text><path d="M1556.1 540.90 H1608.7" stroke="#9e3300" stroke-width="1.3" fill="none"/><text transform="translate(1613.60,549.90) scale(1.19,1)" font-size="24.3" fill="#000" stroke="#000" stroke-width="0.3">Δ</text><text transform="translate(1633.50,549.90) scale(1,1.0)" font-size="24.3" fill="#000" stroke="#000" stroke-width="0.4">=0.4</text><path d="M1556.1 571.25 H1608.7" stroke="#008000" stroke-width="1.3" fill="none"/><text transform="translate(1613.60,580.25) scale(1.19,1)" font-size="24.3" fill="#000" stroke="#000" stroke-width="0.3">Δ</text><text transform="translate(1633.50,580.25) scale(1,1.0)" font-size="24.3" fill="#000" stroke="#000" stroke-width="0.4">=0.5</text>
<text transform="translate(72.40,642.40) scale(1,1.045)" font-size="27.3" text-anchor="middle" fill="#262626" stroke="#262626" stroke-width="0.4">0</text><text transform="translate(225.02,642.40) scale(1,1.045)" font-size="27.3" text-anchor="middle" fill="#262626" stroke="#262626" stroke-width="0.4">0.2</text><text transform="translate(377.64,642.40) scale(1,1.045)" font-size="27.3" text-anchor="middle" fill="#262626" stroke="#262626" stroke-width="0.4">0.4</text><text transform="translate(530.26,642.40) scale(1,1.045)" font-size="27.3" text-anchor="middle" fill="#262626" stroke="#262626" stroke-width="0.4">0.6</text><text transform="translate(682.88,642.40) scale(1,1.045)" font-size="27.3" text-anchor="middle" fill="#262626" stroke="#262626" stroke-width="0.4">0.8</text><text transform="translate(835.50,642.40) scale(1,1.045)" font-size="27.3" text-anchor="middle" fill="#262626" stroke="#262626" stroke-width="0.4">1</text><text transform="translate(63.60,617.40) scale(1,1.045)" font-size="27.3" text-anchor="end" fill="#262626" stroke="#262626" stroke-width="0.4">0</text><text transform="translate(63.60,542.71) scale(1,1.045)" font-size="27.3" text-anchor="end" fill="#262626" stroke="#262626" stroke-width="0.4">10</text><text transform="translate(63.60,468.02) scale(1,1.045)" font-size="27.3" text-anchor="end" fill="#262626" stroke="#262626" stroke-width="0.4">20</text><text transform="translate(63.60,393.34) scale(1,1.045)" font-size="27.3" text-anchor="end" fill="#262626" stroke="#262626" stroke-width="0.4">30</text><text transform="translate(63.60,318.65) scale(1,1.045)" font-size="27.3" text-anchor="end" fill="#262626" stroke="#262626" stroke-width="0.4">40</text><text transform="translate(63.60,243.96) scale(1,1.045)" font-size="27.3" text-anchor="end" fill="#262626" stroke="#262626" stroke-width="0.4">50</text><text transform="translate(63.60,169.27) scale(1,1.045)" font-size="27.3" text-anchor="end" fill="#262626" stroke="#262626" stroke-width="0.4">60</text><text transform="translate(63.60,94.59) scale(1,1.045)" font-size="27.3" text-anchor="end" fill="#262626" stroke="#262626" stroke-width="0.4">70</text><text transform="translate(63.60,19.90) scale(1,1.045)" font-size="27.3" text-anchor="end" fill="#262626" stroke="#262626" stroke-width="0.4">80</text>
<text transform="translate(955.20,642.40) scale(1,1.045)" font-size="27.3" text-anchor="middle" fill="#262626" stroke="#262626" stroke-width="0.4">0</text><text transform="translate(1107.82,642.40) scale(1,1.045)" font-size="27.3" text-anchor="middle" fill="#262626" stroke="#262626" stroke-width="0.4">0.2</text><text transform="translate(1260.44,642.40) scale(1,1.045)" font-size="27.3" text-anchor="middle" fill="#262626" stroke="#262626" stroke-width="0.4">0.4</text><text transform="translate(1413.06,642.40) scale(1,1.045)" font-size="27.3" text-anchor="middle" fill="#262626" stroke="#262626" stroke-width="0.4">0.6</text><text transform="translate(1565.68,642.40) scale(1,1.045)" font-size="27.3" text-anchor="middle" fill="#262626" stroke="#262626" stroke-width="0.4">0.8</text><text transform="translate(1718.30,642.40) scale(1,1.045)" font-size="27.3" text-anchor="middle" fill="#262626" stroke="#262626" stroke-width="0.4">1</text><text transform="translate(946.40,617.40) scale(1,1.045)" font-size="27.3" text-anchor="end" fill="#262626" stroke="#262626" stroke-width="0.4">0</text><text transform="translate(946.40,532.04) scale(1,1.045)" font-size="27.3" text-anchor="end" fill="#262626" stroke="#262626" stroke-width="0.4">10</text><text transform="translate(946.40,446.69) scale(1,1.045)" font-size="27.3" text-anchor="end" fill="#262626" stroke="#262626" stroke-width="0.4">20</text><text transform="translate(946.40,361.33) scale(1,1.045)" font-size="27.3" text-anchor="end" fill="#262626" stroke="#262626" stroke-width="0.4">30</text><text transform="translate(946.40,275.97) scale(1,1.045)" font-size="27.3" text-anchor="end" fill="#262626" stroke="#262626" stroke-width="0.4">40</text><text transform="translate(946.40,190.61) scale(1,1.045)" font-size="27.3" text-anchor="end" fill="#262626" stroke="#262626" stroke-width="0.4">50</text><text transform="translate(946.40,105.26) scale(1,1.045)" font-size="27.3" text-anchor="end" fill="#262626" stroke="#262626" stroke-width="0.4">60</text><text transform="translate(946.40,19.90) scale(1,1.045)" font-size="27.3" text-anchor="end" fill="#262626" stroke="#262626" stroke-width="0.4">70</text>
<text transform="translate(395.30,684.80) scale(1,1.03)" font-size="28.6" fill="#262626" stroke="#262626" stroke-width="0.4">t (</text>
<text transform="translate(434.20,690.00) scale(1,1.0)" font-size="40" text-anchor="middle" fill="#262626" stroke="#262626" stroke-width="0.8" style="stroke:#fff">×</text>
<text transform="translate(455.00,684.80) scale(1,1.03)" font-size="28.6" fill="#262626" stroke="#262626" stroke-width="0.4">10</text>
<text transform="translate(486.20,671.20) scale(1,1.03)" font-size="21.5" fill="#262626" stroke="#262626" stroke-width="0.4">4</text>
<text transform="translate(498.80,684.80) scale(1,1.03)" font-size="28.6" fill="#262626" stroke="#262626" stroke-width="0.4">)</text>
<text transform="translate(1278.10,684.80) scale(1,1.03)" font-size="28.6" fill="#262626" stroke="#262626" stroke-width="0.4">t (</text>
<text transform="translate(1317.00,690.00) scale(1,1.0)" font-size="40" text-anchor="middle" fill="#262626" stroke="#262626" stroke-width="0.8" style="stroke:#fff">×</text>
<text transform="translate(1337.80,684.80) scale(1,1.03)" font-size="28.6" fill="#262626" stroke="#262626" stroke-width="0.4">10</text>
<text transform="translate(1369.00,671.20) scale(1,1.03)" font-size="21.5" fill="#262626" stroke="#262626" stroke-width="0.4">4</text>
<text transform="translate(1381.60,684.80) scale(1,1.03)" font-size="28.6" fill="#262626" stroke="#262626" stroke-width="0.4">)</text>
<text transform="translate(21.8,308.3) rotate(-90) scale(1,1.03)" font-size="29.3" text-anchor="middle" fill="#262626">d(t)</text>
<text transform="translate(904.6,308.3) rotate(-90) scale(1,1.03)" font-size="29.3" text-anchor="middle" fill="#262626">d(t)</text>
<text class="s" transform="translate(400.8,755.4) scale(1.03,1.06)" font-size="41" text-anchor="middle" fill="#262626" stroke="#262626" stroke-width="0.3">(a)</text>
<text class="s" transform="translate(1283.6,755.4) scale(1.03,1.06)" font-size="41" text-anchor="middle" fill="#262626" stroke="#262626" stroke-width="0.3">(b)</text>
</svg></body></html>
